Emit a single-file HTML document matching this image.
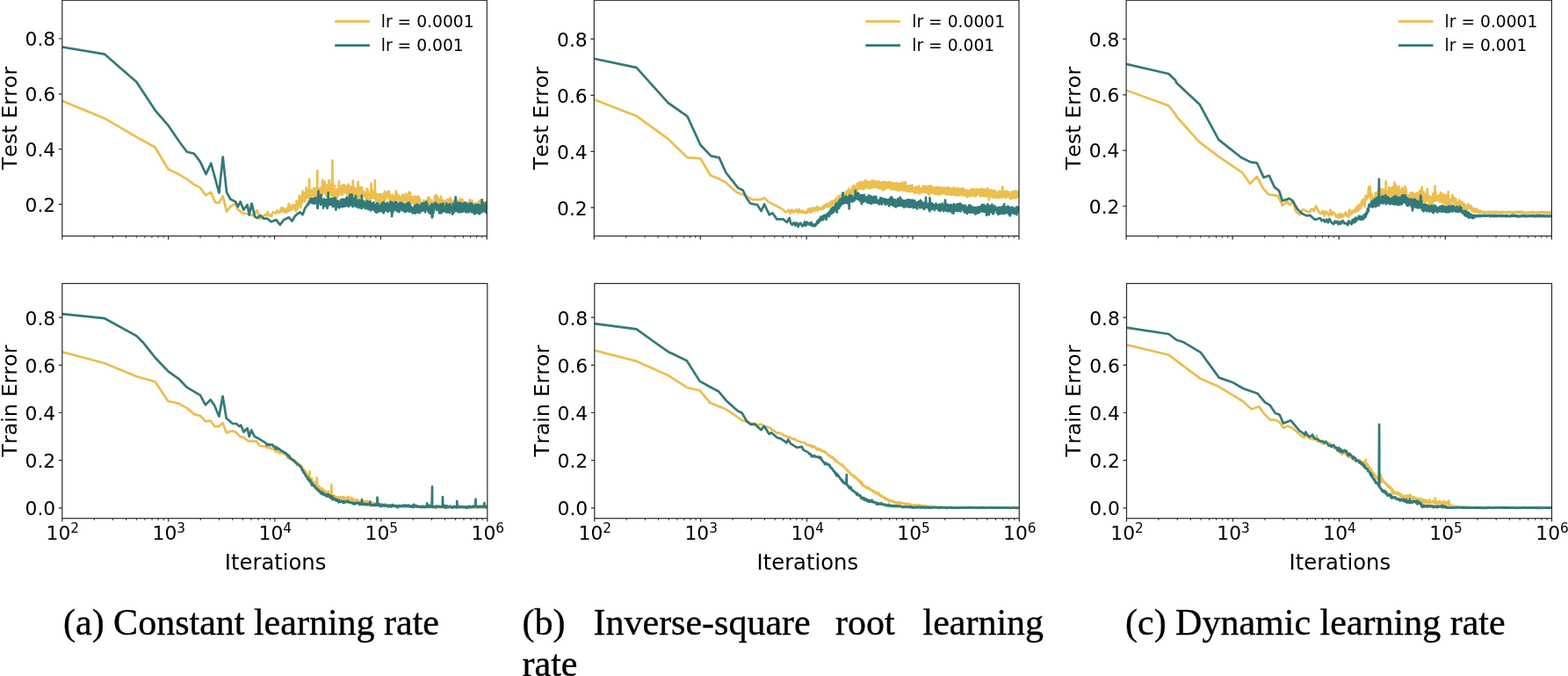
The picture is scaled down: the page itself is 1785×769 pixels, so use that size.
<!DOCTYPE html>
<html><head><meta charset="utf-8"><title>Learning rate figure</title>
<style>
html,body{margin:0;padding:0;background:#fff;width:1785px;height:769px;overflow:hidden}
svg{display:block}
text{font-kerning:none}
.tl{font-family:"DejaVu Sans",sans-serif;font-size:21.8px;fill:#000}
.sup{font-size:15.3px}
.al{font-family:"DejaVu Sans",sans-serif;font-size:24.25px;fill:#000}
.yl{font-family:"DejaVu Sans",sans-serif;font-size:23.8px;fill:#000}
.lg{font-family:"DejaVu Sans",sans-serif;font-size:18.7px;fill:#000}
.cap{font-family:"Liberation Serif","Times New Roman",serif;font-size:42px;fill:#000;stroke:#000;stroke-width:0.35px}
</style></head><body>
<svg width="1785" height="769" viewBox="0 0 1785 769">
<defs>
<clipPath id="c00"><rect x="70.8" y="0.3" width="483.5" height="268.2"/></clipPath>
<clipPath id="c10"><rect x="70.8" y="322.5" width="484.0" height="267.2"/></clipPath>
<clipPath id="c01"><rect x="676.3" y="0.3" width="483.7" height="268.2"/></clipPath>
<clipPath id="c11"><rect x="676.8" y="322.5" width="483.5" height="267.2"/></clipPath>
<clipPath id="c02"><rect x="1282.1" y="0.3" width="484.3" height="268.2"/></clipPath>
<clipPath id="c12"><rect x="1282.5" y="322.5" width="484.0" height="267.2"/></clipPath>
</defs>
<path clip-path="url(#c00)" d="M70.8,114.8 L119.2,134.7 154.5,155.3 176.5,167.5 191.5,192.5 202.9,197.9 212.8,203.8 220,209.4 227.9,213.6 234.3,222.2 240.1,218.7 245.1,230.1 249.4,230.8 253.7,222.9 258,240.8 262.2,235.1 268,231.5 270.1,237.3 275.8,242.3 280.1,243 287.3,245.1 292.3,239.4 295.9,248.7 301.6,244.4 303.2,245.2 304.7,241.1 306.2,245.7 307.7,244.1 309.1,245.9 310.5,241.6 311.9,241.2 313.2,242.2 314.4,242.7 315.7,239.3 316.9,241.2 318.1,241.9 319.3,238.9 320.4,236.3 321.5,240.9 322.6,236.6 323.7,241 324.8,238.4 325.8,242.1 326.8,236.5 327.8,240.2 328.8,231.8 329.7,239.6 330.7,234.2 331.6,238.6 332.5,237.8 333.4,233.3 334.2,237.3 335.1,233.5 336,237.9 336.8,240.2 337.6,228.7 338.4,237.9 339.2,234.9 340,233.8 340.8,222.7 341.5,223.7 342.3,236.2 343,226.8 343.8,231.2 344.5,217.5 345.2,228.4 345.9,220.1 346.6,219.4 347.3,229.5 347.9,221.7 348.6,213.5 349.3,218.9 349.9,225 350.5,222.2 351.2,222.7 351.8,221.6 352.1,203.8 352.4,226.7 353,218.1 353.6,224.8 354.2,217.9 354.8,216.5 355.4,221.4 356,216.8 356.5,223.3 357.1,214.2 357.7,227.8 358.2,223.4 358.8,224.5 359.3,219.3 359.9,213.7 360.4,214.9 361,220.1 361.2,194.1 361.5,222.2 362.1,215 362.6,225.3 363.2,219.5 363.7,220 364.3,214.3 364.8,223.6 365.4,213.5 365.9,223.7 366.5,213.4 367,221.9 367.1,204.5 367.6,213.9 368.1,219.5 368.7,215 369.2,219.1 369.8,206.6 370.3,220 370.9,212.3 371.4,223.4 372,222.7 372.5,214.8 373.1,210 373.6,220.3 374.2,211.9 374.7,205.1 375.3,220.3 375.8,212.4 376.4,219.6 376.9,210.3 377.5,223.1 378,214.4 378.4,182.4 378.6,219.4 379.1,212.3 379.7,221.8 380.2,225.6 380.8,211.2 381.3,216.9 381.9,227 382.4,217.8 383,222 383.5,225.3 384.1,215.1 384.6,222.5 385.2,222.5 385.7,217.4 385.9,206.4 386.3,219.5 386.8,214.2 387.4,217.5 387.9,212.9 388.5,221.5 389,211.3 389.6,221.7 390.1,214.6 390.7,217.8 391.2,210 391.8,219.2 392.3,212.1 392.9,219.3 393.4,211.1 394,215.4 394.5,219.5 395.1,213.6 395.6,219.8 396.2,224.8 396.7,209.6 397.3,217.4 397.8,211.9 398.4,222.1 398.9,212.7 399.5,219 400,223.1 400.6,217 401.1,225.1 401.7,205.5 402.2,224.9 402.8,219.7 403.3,226.1 403.9,213.9 404.4,220.5 405,221.8 405.5,215.9 406.1,224.4 406.6,214.5 407.2,231 407.7,206.8 408.3,225.5 408.8,224.3 409.4,224.1 409.9,213.3 410.5,220.9 411,213 411.6,224.5 412.1,213.3 412.7,220.6 413.2,219.2 413.8,221.6 414.3,218.1 414.9,223.3 415.4,221 416,224.6 416.5,220.6 417.1,231.9 417.6,214.7 418.2,225.2 418.7,216.3 419.3,232.1 419.8,224.3 420.4,224.9 420.9,223.4 421.5,220.1 422,226.3 422.6,208.9 423.1,225.6 423.7,216.8 424.2,225.5 424.8,221 425.3,224.2 425.9,221.2 426.4,225.6 426.9,205.1 427,224.2 427.5,219.4 428.1,229 428.6,221.4 429.2,229.5 429.7,221.5 430.3,228.4 430.8,221.1 431.4,229.2 431.9,221 432.5,229.5 433,231.3 433.6,220.7 434.1,229.3 434.7,222.8 435.2,228.4 435.8,223.9 436.3,228.4 436.9,220.3 437.4,228.4 438,217.9 438.5,227.6 439.1,221.2 439.6,225.4 440.2,220.2 440.7,223.9 441.3,217.8 441.8,220.3 442.4,224.6 442.9,217.7 443.5,227.5 444,221.5 444.6,224.5 445.1,229.4 445.7,223.2 446.2,231.1 446.8,221.9 447.3,233.8 447.9,224.7 448.4,232.8 449,223.5 449.5,230.7 450.1,223.3 450.6,217.7 451.2,227.3 451.7,220.3 452.3,224.5 452.8,227.4 453.4,224.7 453.9,226.6 454.5,222.7 455,229.2 455.6,226.4 456.1,230.7 456.7,224.7 457.2,227.5 457.8,222.5 458.3,232.7 458.9,221 459.4,229.6 460,225.2 460.5,228 461.1,223.9 461.6,228.1 462.2,220.6 462.7,230.3 463.3,222.1 463.8,232.1 464.4,227.4 464.9,231.3 465.5,218.7 466,229.8 466.6,233.9 467,219.4 467.1,224.4 467.7,230.2 468.2,231.2 468.8,224.2 469.3,228.5 469.9,224.1 470.4,225.3 471,231.4 471.5,223.5 472.1,231.8 472.6,223.6 473.2,230.6 473.7,227.8 474.3,231.4 474.8,224 475.4,226 475.9,231.9 476.5,223.6 477,227.3 477.6,226.9 478.1,226.6 478.7,234.5 479.2,230.5 479.8,231.4 480.3,236.4 480.9,233.1 481.4,237.4 482,238.5 482.5,227.9 483.1,234.1 483.6,229.3 484.2,229.6 484.7,234.6 485.3,230.4 485.8,228.6 486.4,233.1 486.9,225 487.5,228.5 488,234.1 488.6,224.7 489.1,234.4 489.7,229.6 490.2,234.9 490.8,230.4 491.3,227.5 491.9,234 492.4,229.8 493,233.1 493.5,230.6 494.1,229.7 494.6,231.2 495,223.3 495.2,225.2 495.7,228.1 496.3,232.8 496.8,221.8 497.4,230.6 497.9,223.6 498.5,231 499,226.9 499.6,232.7 500.1,227.4 500.7,230.9 501.2,230.6 501.8,232.9 501.8,223.3 502.3,227.8 502.9,234 503.4,227.7 504,233.5 504.5,228.1 505.1,236.3 505.6,237.1 506.2,234.4 506.7,232.2 507.3,228.8 507.8,232.2 508.4,234.1 508.9,227.1 509.5,234.4 510,229.3 510.6,231.8 511.1,226.8 511.7,233.9 512.2,227.4 512.8,225.3 513.3,234.8 513.9,234.5 514.4,228 515,233.7 515.5,231.1 516.1,234.6 516.6,228.8 517.2,235 517.7,227.6 518.3,228.2 518.8,235.1 519.4,228.2 519.9,227.7 520.5,235.4 521,228.3 521.6,233.3 522.1,228.5 522.7,234.7 523.2,230.2 523.8,234.1 524.3,226.4 524.9,237.2 525.4,230 526,231.2 526.5,227.2 527.1,233.7 527.6,230.3 528.2,231.5 528.7,232.5 529.3,230.5 529.8,232.2 530.4,237.3 530.9,233.7 531.5,230.5 532,235 532.6,236 533.1,231.7 533.7,234.3 534.2,229.1 534.8,227.2 535.3,232.7 535.9,229.3 536.4,233.8 537,228 537.5,228.9 538.1,235.7 538.6,232.5 539.2,236.1 539.7,231.6 540.3,235.2 540.8,235.5 541.4,231.1 541.9,237.3 542.5,232.6 543,235.2 543.6,231.2 544.1,235.9 544.7,229.6 545.2,233.7 545.8,228.2 546.3,234.1 546.9,228.7 547.4,233.5 548,228 548.5,237.3 549.1,230.1 549.6,236.5 550.2,233.2 550.7,236.2 551.3,230.9 551.8,236.2 552.4,230.4 552.9,236.6 553.5,230.6 554,235.4 554.3,233" fill="none" stroke="#ECBE4E" stroke-width="2.7" stroke-linejoin="round" stroke-linecap="butt"/>
<path clip-path="url(#c00)" d="M70.8,53.5 L119.2,61.7 155.4,93.3 176.5,125.3 191.7,142.9 204.2,161.2 212.8,172.7 221,174.7 228,184.1 234.5,198.1 240.2,185.7 249.4,219.4 253.7,178.6 258,218.7 262.2,226.5 268,229.4 270.8,235.1 273.7,229.4 277.3,238.7 281.6,233 283.7,244.4 286.6,231.5 290.1,246.6 293,248 296.6,245.1 300.2,248.7 304.4,248.7 308.7,252.3 314.5,250.1 318.8,255.8 323,250.1 328.8,247.3 332.6,251.5 335.9,245.8 339,243 341.6,241.5 344.5,244.4 346.9,237.6 350.5,232 351.1,232.7 351.8,229.1 352.4,230.8 353,230.4 353.6,226.3 354.2,229.1 354.8,226.1 355.4,231.1 355.9,226.1 356.5,228.8 357.1,231.4 357.6,226.1 358.2,231.7 358.7,225.1 359.3,229.9 359.8,230.1 360.4,225.2 360.9,226.6 361.5,237 362,226 362.5,217.5 362.6,229.9 363.1,225.6 363.7,229.4 364.2,226 364.8,233 365.3,221.6 365.9,231.8 366.4,228.5 367,232.1 367.5,227.9 368.1,236.6 368.6,226.3 369.2,234 369.7,227.1 370.3,232.9 370.8,228.4 371.4,234.5 371.9,227.1 372.5,236.9 373,234 373.6,226 373.6,219.4 374.1,233.4 374.7,229 375.2,231 375.8,232.8 376.3,226.3 376.9,231.2 377.4,226.5 378,233.4 378.5,226.2 379.1,235.2 379.6,225.7 380.2,233.6 380.7,229.8 381.3,234.5 381.8,225.4 382.4,238.7 382.9,229.2 383.5,234.5 384,235.1 384.6,228.3 385.1,235 385.7,230.2 386.2,236.4 386.8,231.2 387.3,235.4 387.9,227.6 388.4,234.2 389,227.1 389.5,235.1 390.1,226.6 390.6,235 391.2,235 391.7,227.4 392.3,234.5 392.8,226.8 393.4,234.4 393.9,225.5 394.5,233.8 395,224.7 395.6,229.9 396.1,225.8 396.7,234.8 397.2,226.6 397.8,233.6 398.3,221.6 398.9,227 399.4,227 400,233.1 400.5,221.1 401.1,228.1 401.6,235.2 402.2,225.8 402.7,234.1 403.3,226.5 403.8,231.7 404.4,226.1 404.9,222.9 405.5,235.2 406,231.2 406.6,234.8 407.1,228.4 407.7,235.6 408.2,236.4 408.8,227.4 409.3,228.8 409.9,234.3 410.4,228.7 411,236.6 411.5,229 411.9,222.7 412.1,236.8 412.6,229.4 413.2,234.8 413.7,228.9 414.3,229 414.8,235.6 415.4,231.8 415.9,237.4 416.5,233.3 417,236 417.6,228.6 418.1,237 418.7,231.4 419.2,238.1 419.8,229.6 420.3,232.2 420.9,236.7 421.4,229.1 422,239.3 422.5,231.1 423.1,231.7 423.6,231.7 424.2,238.2 424.7,238.1 425.3,230.3 425.8,238.8 426.4,234.7 426.9,240.2 427.5,240.5 428,232.6 428.6,241.9 429.1,231.4 429.7,238.6 430.2,231.3 430.8,240 431.3,240.6 431.9,234 432.4,237.9 433,235 433.5,239.8 434.1,232.8 434.6,231.6 435.2,231.9 435.7,241.3 436.3,230 436.8,242.2 437.4,230.6 437.9,239.9 438.5,235.4 439,232.3 439.6,238.8 440.1,231.7 440.7,240.1 441.2,230.5 441.8,240.8 442.3,232.7 442.9,236.8 443.4,232.3 444,238.8 444.5,229.6 445.1,240.5 445.6,230.1 446.2,246.1 446.7,238.8 447.3,231 447.8,240.6 448.4,234.2 448.9,237.8 449.5,230.3 450,237.8 450.6,229.9 451.1,239.2 451.7,230.6 452.2,240.2 452.8,233.9 453.3,239.2 453.9,232.2 454.4,241.1 455,230.9 455.5,237.9 456.1,230.8 456.6,238 457.2,231 457.7,239.3 458.3,233.4 458.8,236.7 459.4,232.2 459.9,236.1 460.5,240.8 461,233.6 461.6,240.9 462.1,232.4 462.7,240.5 463.2,231.7 463.8,238.7 464.3,233 464.9,239.5 465.4,230.7 466,240.9 466.5,232 467.1,238.4 467.6,234.6 468.2,236.5 468.7,240.8 469.3,237.6 469.8,242.5 470.4,241.7 470.9,235.7 471.5,241.4 472,234 472.6,242.7 473.1,233.6 473.7,233.8 474.2,241.5 474.8,232.7 475.3,232.9 475.9,233.1 476.4,242 477,234.1 477.5,241.8 478.1,241.9 478.6,234.3 479.2,236.1 479.7,232.4 480.3,231.4 480.8,239.8 481.4,232.2 481.9,238.8 482.5,230.9 483,238 483.6,232.7 484.1,241.3 484.7,236.7 485.2,229.5 485.8,237.5 486.3,231.9 486.9,238.8 487.4,236.4 488,241.5 488.5,241.2 489.1,234.8 489.6,242.9 490.2,235.1 490.7,242.8 491.3,232.3 491.8,247.5 492.4,246.6 492.9,236.2 493.5,241.7 494,231.9 494.6,236.2 495.1,235.5 495.7,231.5 496.2,230.7 496.8,238.8 497.3,232.1 497.9,233 498.4,234 499,238.8 499.5,234.5 500.1,242.3 500.6,232.9 501.2,237.5 501.7,232.6 502.3,242.4 502.8,233 503.4,232.3 503.9,240.6 504.5,231.6 505,240.5 505.6,236.3 506.1,238.4 506.7,237.7 507.2,234.9 507.8,241.4 508.3,231.6 508.9,241.4 509.4,233.1 510,240.3 510.5,240.4 511.1,233 511.6,242.2 512.2,231.9 512.7,233.1 513.3,239.5 513.8,238.9 514.4,236 514.9,243.7 515.5,242.1 516,231.5 516.6,241.6 517.1,232.6 517.7,239.2 518.2,231.1 518.7,224 518.8,239.9 519.3,239.3 519.9,234.7 520.4,231.2 521,240.7 521.5,238.1 522.1,230.8 522.6,241.5 523.2,230.7 523.7,240.7 524.3,232 524.8,241.1 525.4,231.7 525.9,239.3 526.5,232 527,240.6 527.6,232.5 528.1,236.8 528.7,230.8 529.2,232.1 529.8,240.6 530.3,230.8 530.9,241.4 531.4,232 532,239.5 532.5,234.6 533.1,241.3 533.6,241.4 534.2,231.9 534.7,239.7 535.3,232.2 535.8,236.6 536.4,231.1 536.9,241.3 537.5,240.4 538,232.8 538.6,240.2 539.1,241.9 539.7,234.1 540.2,243.4 540.8,241.7 541.3,233.3 541.9,241.5 542.4,242.4 543,233.1 543.5,242.2 544.1,233.2 544.6,238.3 545.2,233.2 545.7,243.3 546.3,235 546.8,239.8 547.4,241.9 547.9,233.7 548.5,241.1 548.6,227.2 549,231 549.6,230.2 550.1,240.4 550.7,234.1 551.2,240.2 551.8,234.8 552.3,240.2 552.9,230.9 553.4,241.8 554,235.6 554.3,236.5" fill="none" stroke="#327A79" stroke-width="2.7" stroke-linejoin="round" stroke-linecap="butt"/>
<path clip-path="url(#c01)" d="M676.4,113.2 L724.5,131.9 760.7,158.1 782.5,179.2 797.3,180.3 808.8,199.5 818.6,203.6 825.8,207.2 838.6,218.7 845.8,221.5 857.2,227.2 865.8,227.2 870.1,225.1 874.4,229.4 883,233.7 891.6,238.7 893.7,240.8 895.8,241.1 897.8,238.7 899.7,242.6 901.5,238.7 903.3,241.7 905,240 906.6,238.4 908.2,242 909.8,238.2 911.3,241.8 912.8,239.8 914.2,242 915.6,240.4 917,242.5 918.3,242.4 919.6,238.3 920.9,241.1 922.1,236.8 923.3,241.7 924.5,239.2 925.6,236.2 926.8,239.6 927.9,236.8 928.9,239.4 930,235.3 931,239.3 932.1,235.8 933,237.4 934,238 935,238.3 935.9,235.6 936.9,237.9 937.8,234 938.7,236.3 939.5,233 940.4,235.1 941.3,232.2 942.1,234.4 942.9,235.6 943.7,231.3 944.5,234.8 945.3,230.1 946.1,233.2 946.9,228.9 947.6,232.5 948.4,229.4 949.1,228.4 949.8,231 950.5,231.6 951.2,226.7 951.9,230.6 952.6,225.9 953.3,229.1 954,225 954.6,223.8 955.3,228.8 955.9,222.7 956.6,228.4 957.2,224 957.8,228.1 958.4,221.2 959,226 959.6,221.5 960.2,225.6 960.8,222.8 961.4,226 962,219.6 962.5,224.1 963.1,218.7 963.6,223.9 964.2,217.7 964.7,222.5 965.3,216.9 965.8,221.3 966.4,214.8 966.9,217.4 967.5,219.8 968,217.2 968.6,219.6 969.1,216.1 969.7,219.9 970.2,213.4 970.8,218.9 971.3,211.4 971.9,211.4 972.4,220.2 973,213.8 973.5,217.5 974.1,212.5 974.6,216.4 975.2,217.2 975.7,209.1 976.3,209.2 976.8,215.4 977.4,214.4 977.9,208.2 978.5,212.1 979,207.2 979.6,214.6 980.1,208.6 980.7,214.3 981.2,207.5 981.8,214 982.3,207 982.9,215.5 983.4,208 984,214.7 984.5,206.1 985.1,210.4 985.6,205 986.2,211.8 986.7,206.6 987.3,213.9 987.8,207.3 988.4,212.3 988.9,207.1 989.5,214.1 990,207 990.6,214.1 991.1,207.2 991.7,213.6 992.2,213.5 992.8,205.3 993.3,212.9 993.9,213.1 994.4,206.1 995,210.3 995.5,207.4 996.1,212.6 996.6,206.1 997.2,213.2 997.7,209.6 998.3,212.8 998.8,208.1 999.4,213.3 999.9,206.3 1000.5,213.6 1001,207.2 1001.6,214.6 1002.1,207.6 1002.7,213.3 1003.2,208.1 1003.8,213.2 1004.3,207.4 1004.9,216.4 1005.4,207 1006,214.6 1006.5,207.2 1007.1,215.2 1007.6,207.1 1008.2,214.2 1008.7,210.2 1009.3,207.8 1009.8,213.4 1010.4,210.4 1010.9,213.9 1011.5,206.8 1012,213.6 1012.6,207.9 1013.1,212.3 1013.7,208.5 1014.2,215.3 1014.8,207.5 1015.3,211.9 1015.9,215.5 1016.4,210.5 1017,214.4 1017.5,208.2 1018.1,208.5 1018.6,215.6 1019.2,214.8 1019.7,208.5 1020.3,216.1 1020.8,208.3 1021.4,215.2 1021.9,209.1 1022.5,216.4 1023,209.6 1023.6,216.9 1024.1,209 1024.7,215.8 1025.2,208.9 1025.8,213.2 1026.3,208.6 1026.9,215.8 1027.4,207.8 1028,216.7 1028.5,208.1 1029.1,216.4 1029.6,208.9 1030.2,214.7 1030.7,207.2 1031.3,217.2 1031.8,211.6 1032.4,216.3 1032.9,216.1 1033.5,217.7 1034,211.3 1034.6,217.4 1035.1,211 1035.7,217.4 1036.2,211.7 1036.8,218.2 1037.3,213.6 1037.9,216 1038.4,210.7 1039,217.7 1039.5,217.8 1040.1,215 1040.6,218.6 1041.2,213.9 1041.7,219.6 1042.3,212.5 1042.8,216.8 1043.4,215.3 1043.9,218.9 1044.5,218 1045,212.8 1045.6,217.5 1046.1,211.5 1046.7,220.1 1047.2,213.5 1047.8,218.5 1048.3,218.3 1048.9,219.2 1049.4,214.8 1050,218.7 1050.5,211.8 1051.1,216 1051.6,212.4 1052.2,218.3 1052.7,212.1 1053.3,211.9 1053.8,218.4 1054.4,212.8 1054.9,219.3 1055.5,213.1 1056,218.6 1056.6,211.6 1057.1,220.7 1057.7,221.6 1058.2,215.9 1058.8,219.2 1059.3,211.3 1059.9,218.9 1060.4,215.2 1061,219.7 1061.5,212.6 1062.1,219.5 1062.6,213.5 1063.2,219 1063.7,213.9 1064.3,220.8 1064.8,213.5 1065.4,220.3 1065.9,220.6 1066.5,213.1 1067,220.5 1067.6,213.5 1068.1,221.2 1068.7,213.1 1069.2,221.4 1069.8,214.1 1070.3,219.7 1070.9,213.7 1071.4,220.4 1072,213.6 1072.5,214.6 1073.1,220 1073.6,213.9 1074.2,220 1074.7,213.6 1075.3,220.4 1075.8,220.6 1076.4,213.9 1076.9,219.4 1077.5,221.4 1078,215.4 1078.6,221.1 1079.1,213.1 1079.7,220.2 1080.2,213.7 1080.8,221.1 1081.3,217.3 1081.9,221 1082.4,214.8 1083,221.9 1083.5,215.2 1084.1,220.4 1084.6,214.3 1085.2,220.7 1085.7,213.7 1086.3,221.7 1086.8,214.4 1087.4,220.8 1087.9,221.7 1088.5,214.5 1089,222.3 1089.6,214.7 1090.1,219.1 1090.7,214.4 1091.2,221.5 1091.8,215.2 1092.3,215.1 1092.9,222.3 1093.4,217.1 1094,220.5 1094.5,214.5 1095.1,217.2 1095.6,215.6 1096.2,222.3 1096.7,214.4 1097.3,222.1 1097.8,216.7 1098.4,222.1 1098.9,216.3 1099.5,222.2 1100,216 1100.6,221.7 1101.1,224.1 1101.7,217.6 1102.2,222.8 1102.8,217.2 1103.3,223 1103.9,217.7 1104.4,221.4 1105,216.5 1105.5,223.1 1106.1,215 1106.6,222.6 1107.2,215.5 1107.7,221.5 1108.3,215.3 1108.8,222.5 1109.4,216.1 1109.9,223.4 1110.5,216.2 1111,219.9 1111.6,215.4 1112.1,222.4 1112.7,217 1113.2,220.4 1113.8,215.6 1114.3,220.7 1114.9,217.2 1115.4,215.9 1116,223.3 1116.5,216.5 1117.1,214.7 1117.6,222.4 1118.2,215.1 1118.7,222.9 1119.3,222.7 1119.8,216.6 1120.4,215.5 1120.9,222.9 1121.5,215.8 1122,216.8 1122.6,223.4 1123.1,216.8 1123.7,222.4 1124.2,214.2 1124.8,222.7 1125.3,216.2 1125.9,227.4 1126.4,217.2 1127,223.6 1127.5,216.8 1128.1,223.3 1128.6,216.2 1129.2,222.9 1129.7,217.8 1130.3,224.7 1130.8,217.1 1131.4,224.7 1131.9,218.8 1132.5,224.1 1133,217.1 1133.6,223.6 1134.1,224.8 1134.7,223.7 1135.2,224.5 1135.8,219.2 1136.3,224.1 1136.9,225.2 1137.4,217.7 1138,218 1138.5,224.4 1139.1,218.1 1139.6,224.6 1140.2,217.8 1140.7,223.7 1141.3,212.7 1141.8,224.4 1142.4,222.1 1142.9,217.6 1143.5,223.5 1144,218.7 1144.6,224.9 1145.1,225.1 1145.7,217.2 1146.2,224 1146.8,218.7 1147.3,219.6 1147.9,221.5 1148.4,218.3 1149,224.3 1149.5,221.3 1150.1,225.9 1150.6,220.9 1151.2,225.8 1151.7,218.6 1152.3,225.5 1152.8,218.2 1153.4,223.4 1153.9,219.6 1154.5,225.3 1155,218.7 1155.6,217.2 1156.1,225.3 1156.7,225 1157.2,217.6 1157.8,218.2 1158.3,224 1158.9,218.2 1159.4,218.8 1160,224.1 1160.1,222" fill="none" stroke="#ECBE4E" stroke-width="2.7" stroke-linejoin="round" stroke-linecap="butt"/>
<path clip-path="url(#c01)" d="M676.4,66.8 L724.5,76.9 760.7,117.1 782.5,132.4 797.3,164.7 809.3,177.4 818.7,179.4 826.5,196.5 840.1,213.6 845.8,216.5 850.1,225.8 854.4,231.5 862.2,233 866.5,240.1 870.1,232.2 875.8,244.4 879.4,242.3 884.4,249.4 891.6,249.4 895.9,253 898.7,248 900.1,253.7 901.9,255.8 903.7,253.2 905.4,256.6 907,253.4 908.6,258 910.2,254.2 911.7,253.9 913.1,257.2 914.6,256.7 916,252.4 917.3,256.9 918.6,252.6 919.9,255.2 921.2,253.7 922.4,256.2 923.6,253 924.8,256.8 925.9,257.1 927,255.1 928.1,257 929.2,255.5 930.2,251.9 931.3,253.8 932.3,249.5 933.3,251.8 934.3,246.6 935.2,250.1 936.2,246.3 937.1,250.1 938,245 938.9,244.7 939.8,246 940.6,249.8 941.5,243.6 942.3,245.3 943.1,242.1 943.9,246.2 944.7,240 945.5,243.6 946.3,237.5 947.1,242.7 947.8,235.9 948.5,241.7 949.3,235.8 950,240.2 950.7,233.5 951.4,239.1 952.1,231.4 952.8,241.7 953.5,231.7 954.1,237.5 954.8,229.3 955.4,236.6 956.1,227.4 956.7,234.1 957.3,226.4 958,226.9 958.6,232.2 959.2,225.6 959.5,219.4 959.8,231.6 960.4,224.1 960.9,230.4 961.5,230.6 962.1,230.6 962.7,223.2 963.2,230.6 963.8,224.6 964.3,231.1 964.9,230.3 965.4,224.9 966,223.9 966.5,229.5 966.7,237.5 967.1,222.9 967.6,221.9 968.2,228.2 968.7,224.6 969.3,228.9 969.8,222.5 970.4,229.5 970.9,224.9 971.5,227.2 972,224.6 972.6,228.4 973.1,222.4 973.7,220.3 973.8,216.8 974.2,224.9 974.8,220.5 975.3,226.2 975.9,220.2 976.4,226.7 977,219.5 977.5,226.6 978.1,227.1 978.6,221.8 979.2,228.6 979.7,222.3 980.3,222.6 980.8,231.9 981.4,222.1 981.9,229.4 982.5,222.4 983,229.7 983.6,221.5 984.1,228.4 984.7,224 985.2,228.4 985.8,224.1 986.3,227.8 986.9,230 987.4,224.3 988,224.4 988.5,230.9 989.1,222 989.6,227.1 990.2,230.4 990.7,225 991.3,231.7 991.8,223.3 992.4,231.5 992.9,224.5 993.5,230 994,230.1 994.6,223.9 995.1,230.7 995.7,223.9 996.2,224.3 996.8,230.2 997.3,223.7 997.9,230.6 998.4,227.4 999,230.6 999.5,230 1000.1,231.7 1000.6,232.1 1001.2,227.4 1001.7,231.9 1002.3,225.2 1002.8,231.3 1003.4,225.5 1003.9,232.5 1004.5,225.7 1005,229.6 1005.6,227 1006.1,230.5 1006.7,230.6 1007.2,226.3 1007.8,232.7 1008.3,226.9 1008.9,231.7 1009.4,227.4 1010,232.2 1010.5,227.6 1011.1,231 1011.6,227 1012.2,234.3 1012.7,233 1013.3,225.5 1013.8,225.5 1014.4,232.7 1014.9,224.2 1015.5,231.5 1016,226.1 1016.6,233.7 1017.1,227.7 1017.7,231.5 1018.2,227 1018.8,234.9 1019.3,227.5 1019.9,235.5 1020.4,228.9 1021,234.2 1021.5,233.8 1022.1,226 1022.6,226.9 1023.2,234.1 1023.7,226.3 1024.3,231.3 1024.8,224.6 1025.4,233.8 1025.9,226.8 1026.5,233.9 1027,227.7 1027.6,234.3 1028.1,228.4 1028.7,232.1 1029.2,235.8 1029.8,228.4 1030.3,234.5 1030.9,229.8 1031.4,229 1032,227.8 1032.5,235.3 1033.1,234.2 1033.6,227.3 1034.2,233.3 1034.7,227.3 1035.3,235.7 1035.8,234.8 1036.4,227.6 1036.9,235.3 1037.5,228 1038,233.7 1038.6,227.7 1039.1,234 1039.7,236.4 1040.2,228.4 1040.8,235.6 1041.3,228.3 1041.9,235.8 1042.4,231.8 1043,230.3 1043.5,235.1 1044.1,237.6 1044.6,231.5 1045.2,233.2 1045.7,229 1046.3,233.2 1046.8,229.3 1047.4,236.3 1047.9,227.8 1048.5,233.3 1049,234.3 1049.6,229.8 1050.1,236.2 1050.7,231.6 1051.2,237.2 1051.8,231.3 1052.3,238 1052.9,230.5 1053.4,236 1054,233.9 1054,224.5 1054.5,232.6 1055.1,235.8 1055.6,232.3 1056.2,235.7 1056.7,233.5 1057.3,238.2 1057.8,231 1058.4,240.3 1058.5,225 1058.9,233 1059.5,233.6 1060,238 1060.6,231.1 1061.1,238 1061.7,231.9 1062.2,235.2 1062.8,233.3 1063.3,233.8 1063.9,239.1 1064.4,233.1 1065,236.5 1065.5,231.7 1066.1,235.8 1066.6,237 1067.2,233.1 1067.7,233.3 1068.3,239.2 1068.8,234.5 1069.4,237.2 1069.9,232.3 1070.5,240.1 1071,233.6 1071.6,237.3 1072.1,238.3 1072.7,231.6 1073.2,237.1 1073.8,235.2 1074.3,240.2 1074.9,234 1075.4,239.1 1076,227.5 1076.5,235.3 1077.1,239.5 1077.6,237.8 1078.2,232.7 1078.7,232.9 1079.3,240.4 1079.8,233.2 1080.4,240.2 1080.9,234.9 1081.5,239.8 1082,233.9 1082.6,233 1083.1,233.3 1083.7,241.9 1084.2,235 1084.8,239.9 1085.3,242.8 1085.9,232.2 1086.4,236.5 1087,240.2 1087.5,233.7 1088.1,234.2 1088.6,237.1 1089.2,232.5 1089.7,240.2 1090.3,237.3 1090.8,232.2 1091.4,239.9 1091.9,233 1092.5,239.1 1093,231.7 1093.6,240.4 1094.1,232.5 1094.7,237 1095.2,233.7 1095.8,236.9 1096.3,236.5 1096.9,239.8 1097.4,233.9 1098,241.6 1098.5,238.6 1099.1,233.9 1099.6,237 1100.2,241.1 1100.7,243 1101.3,236.6 1101.8,239 1102.4,235.1 1102.9,241.3 1103.5,233.4 1104,241.7 1104.6,234 1105.1,241.7 1105.7,234.8 1106.2,240.8 1106.8,235.5 1107.3,241.6 1107.9,236.1 1108.4,241.8 1109,236.7 1109.5,242.4 1110.1,236.2 1110.6,243.7 1111.2,238.6 1111.7,242.3 1112.3,236.1 1112.8,242.4 1113.4,235.5 1113.9,238.8 1114.5,235.9 1115,241.9 1115.6,235.3 1116.1,235.2 1116.7,235.6 1117.2,239.7 1117.8,233.1 1118.3,240.6 1118.9,236 1119.4,236.8 1120,232.9 1120.5,240.6 1121.1,234 1121.6,240.9 1122.2,235 1122.7,241.6 1123.3,245 1123.8,235 1124.4,232.4 1124.9,242.8 1125.5,234.6 1126,244.1 1126.6,234.3 1127.1,240.7 1127.7,234.8 1128.2,234.8 1128.8,241.5 1129.3,232.6 1129.9,235.8 1130.4,243.5 1131,238.1 1131.5,242.1 1132.1,234.3 1132.6,235 1133.2,238.8 1133.7,236 1134.3,238.7 1134.8,240.5 1135.4,242.5 1135.9,236.4 1136.5,243.8 1137,236.7 1137.6,239.9 1138.1,235.9 1138.7,243.2 1139.2,242.3 1139.8,236.7 1140.3,239.6 1140.9,235 1141.4,242.8 1142,235.2 1142.5,243 1143.1,232.2 1143.6,242.8 1144.2,235.5 1144.7,238.9 1145.3,241.6 1145.8,241.8 1146.4,239 1146.9,234.9 1147.5,242.2 1148,234.9 1148.6,243.7 1149.1,236.1 1149.7,245.3 1150.2,237.9 1150.8,243.2 1151.3,236.8 1151.9,235.6 1152.4,241.6 1153,236.3 1153.5,242.3 1154.1,237.1 1154.6,243 1155.2,238.5 1155.7,243.1 1156.3,243.3 1156.8,235.9 1157.4,244.1 1157.9,236.5 1158.5,235.4 1159,239.2 1159.6,240.9 1160.1,239.6" fill="none" stroke="#327A79" stroke-width="2.7" stroke-linejoin="round" stroke-linecap="butt"/>
<path clip-path="url(#c02)" d="M1282.1,102.7 L1330.5,120.3 1338.2,130.1 1339.3,132.5 1365.1,161.3 1387.3,178.1 1414.3,196.4 1423.1,209 1430.9,201 1437.8,214.2 1444.3,221.4 1454.7,222.7 1459.9,233.7 1465.1,229.2 1468.4,233.1 1471.6,227.9 1474.9,240.2 1479.4,244.1 1483.3,238.3 1488.5,240.9 1491,241 1493.4,237.6 1495.7,240 1498,234.7 1498.3,234.4 1500.1,238.4 1502.1,242.3 1504.1,243.1 1506,240 1507.8,245.9 1509.6,240.3 1511.3,242.9 1512.9,245.4 1514.5,238.7 1516.1,244.7 1517.6,241.4 1519.1,242.3 1520.5,245.6 1521.9,247 1523.2,244.1 1524.6,248.2 1525.9,243.1 1527.1,247.4 1528.3,244.4 1529.5,246.2 1530.7,243.5 1531.9,241.6 1533,245.5 1534.1,243.5 1535.2,246.7 1536.2,238.6 1537.3,244.3 1538.3,240.7 1539.3,242.5 1540.2,239.7 1541.2,240.7 1542.1,238.8 1543.1,241.3 1544,235.4 1544.9,237.3 1545.8,240.2 1546.6,233.3 1547.5,238.1 1548.3,233 1549.1,236.8 1549.9,229.4 1550.7,233.2 1551.5,226.7 1552.3,231.6 1553.1,227.6 1553.8,234.9 1554.6,222.5 1555.3,227 1556,224 1556.7,225 1557.4,223.9 1558.1,212.9 1558.8,219.9 1559.5,212 1560.2,224.7 1560.8,227.3 1561.5,220.5 1562.1,227.3 1562.7,225.9 1563.4,227.8 1564,225.7 1564.6,234.2 1565.2,226.4 1565.8,219.5 1566.4,226.5 1567,219.9 1567.6,223.8 1568.1,218.7 1568.7,225.5 1569.3,224.9 1569.8,214.6 1570.4,219.8 1570.9,222.1 1571.5,216.8 1572,225.4 1572.6,214.9 1573.1,225 1573.7,215.4 1574.2,225.8 1574.8,216 1575.3,227.6 1575.9,216.8 1576.4,226.1 1577,218.6 1577.5,223.7 1577.7,206.4 1578.1,224.3 1578.6,218.1 1579.2,223.7 1579.7,221.9 1580.3,217.6 1580.8,220.3 1581.4,213 1581.9,224.1 1582.5,222.2 1583,216.1 1583.6,222.6 1584.1,214.1 1584.7,222.9 1585.2,222.2 1585.8,212.6 1586.3,222.6 1586.9,220.1 1587.4,227.8 1587.5,207.7 1588,218.5 1588.5,223.6 1589.1,210.8 1589.6,225.4 1590.2,214.4 1590.7,222.6 1591.3,219.3 1591.8,226.7 1592.4,211.8 1592.9,226.7 1593.5,217.2 1594,224.4 1594.6,216.3 1595.1,223.9 1595.7,226.7 1596.2,213.9 1596.8,221.1 1597.3,217.6 1597.9,222.1 1598.4,215.6 1599,218.8 1599.5,212.1 1600.1,226.2 1600.6,214.9 1601.2,226.4 1601.7,222.2 1602.3,228.6 1602.8,231 1603.4,222 1603.9,231.6 1604.5,225.8 1605,231.4 1605.6,219.6 1606.1,219.1 1606.7,227.4 1607.2,223.2 1607.8,225.4 1608.3,219.1 1608.9,230.9 1609.4,221.3 1610,228.1 1610.5,221.3 1611.1,231 1611.6,220.8 1612.2,231 1612.7,219.3 1613.3,228.9 1613.8,222 1614.4,229.7 1614.9,220.1 1615.5,224.7 1616,219.2 1616.6,216.9 1617.1,227.5 1617.7,220.6 1618.2,217.9 1618.7,212.9 1618.8,230 1619.3,223.8 1619.9,219.5 1620.4,228.7 1621,218.7 1621.5,225.8 1622.1,223.4 1622.6,232.9 1623.2,221.1 1623.7,223 1624.3,227.6 1624.8,214.9 1625.4,226.1 1625.9,227.1 1626.5,226.4 1627,232.8 1627.6,223 1628.1,233 1628.7,224.4 1629.2,230.2 1629.8,226.5 1630.3,237.9 1630.9,231.3 1631.4,220.2 1632,228.5 1632.5,221.7 1633.1,224.2 1633.6,211.6 1633.6,228.3 1634.2,218.1 1634.7,227.7 1635.3,227.6 1635.8,223.7 1636.4,227.7 1636.9,227 1637.5,221.9 1638,227 1638.6,225.7 1639.1,229.5 1639.7,226.6 1640.2,219.1 1640.8,229.5 1641.3,220.4 1641.9,230.5 1642.4,223.3 1643,228.3 1643.5,221.4 1644.1,223.6 1644.6,231.7 1645.2,225.4 1645.7,222.2 1646.3,228.3 1646.8,222.3 1647.4,235.2 1647.9,227.1 1648.5,227.5 1648.6,218.1 1649,237.7 1649.6,230.8 1650.1,229.8 1650.7,232.2 1651.2,226.9 1651.8,231.4 1652.3,226.1 1652.9,229.4 1653.4,221.9 1654,227.4 1654.5,229 1655.1,224.8 1655.6,235.1 1656.2,226.2 1656.7,234.3 1657.3,226.4 1657.8,236 1658.4,229.8 1658.9,232.6 1659.5,236.1 1660,230.3 1660.6,236.5 1661.1,227.3 1661.7,233.6 1662.2,229 1662.8,235.3 1663.3,232.4 1663.9,233.8 1664.4,229.7 1665,234.3 1665.5,231.2 1666.1,237.2 1666.6,240.5 1667.2,237.7 1667.7,232.3 1668.3,233.5 1668.8,238.5 1669.4,234.9 1669.9,238.4 1670.5,235.5 1671,237.4 1671.6,232 1672.1,236.5 1672.7,234 1673.2,237.3 1673.8,235 1674.3,237.8 1674.9,234.1 1675.4,240.1 1676,237.8 1676.5,240.5 1677.1,237.1 1677.6,238.2 1678.2,240.9 1678.7,237.8 1679.3,241.1 1679.8,238.7 1680.4,241 1680.9,237.5 1681.5,241.1 1682,239.7 1682.6,240.1 1683.1,241.9 1683.7,239.7 1684.2,241.9 1684.8,240.6 1685.3,241.3 1685.9,240 1686.4,241.6 1687,241.2 1687.5,241.4 1688.1,240.8 1688.6,241.5 1689.2,241.4 1689.7,241.6 1690.3,240.8 1690.8,242 1691.4,241.3 1691.9,241.7 1692.5,241.4 1693,241.5 1693.6,241 1694.1,242 1694.7,240.8 1695.2,241.8 1695.8,241.2 1696.3,241.9 1696.9,241 1697.4,241.5 1698,240.9 1698.5,241.9 1699.1,241.2 1699.6,241.3 1700.2,240.8 1700.7,241.8 1701.3,241.8 1701.8,241.4 1702.4,242.3 1702.9,240.7 1703.5,241.5 1704,240.7 1704.6,241.8 1705.1,241.5 1705.7,242.1 1706.2,242.2 1706.8,241 1707.3,242.2 1707.9,241.1 1708.4,242.1 1709,241.1 1709.5,242.3 1710.1,241.1 1710.6,242 1711.2,240.8 1711.7,242 1712.3,241.2 1712.8,241.5 1713.4,241.8 1713.9,241.3 1714.5,242.1 1715,241.3 1715.6,241.4 1716.1,241.9 1716.7,241 1717.2,241.8 1717.8,241.3 1718.3,240.9 1718.9,241.1 1719.4,242 1720,241.1 1720.5,242.2 1721.1,242.1 1721.6,241.9 1722.2,241.2 1722.7,242.8 1723.3,242.1 1723.8,241.1 1724.4,241.8 1724.9,241.4 1725.5,242.1 1726,241 1726.6,241.9 1727.1,241.4 1727.7,241.9 1728.2,240.8 1728.8,241.8 1729.3,241 1729.9,241.8 1730.4,241.9 1731,241.3 1731.5,241.9 1732.1,240.5 1732.6,241.8 1733.2,241.1 1733.7,242.3 1734.3,241.9 1734.8,241.4 1735.4,241.9 1735.9,241.4 1736.5,242.5 1737,241.6 1737.6,242.3 1738.1,241.8 1738.7,241.9 1739.2,242.6 1739.8,241.6 1740.3,241.4 1740.9,242.1 1741.4,241.8 1742,242.1 1742.5,241.6 1743.1,242 1743.6,241 1744.2,242 1744.7,240.9 1745.3,241.9 1745.8,241.4 1746.4,242.2 1746.9,241.4 1747.5,242.4 1748,241.8 1748.6,242.5 1749.1,241.6 1749.7,242.6 1750.2,241.8 1750.8,241.5 1751.3,242 1751.9,241.4 1752.4,242.5 1753,242.6 1753.5,241.9 1754.1,240.8 1754.6,242.2 1755.2,241.1 1755.7,242.2 1756.3,241.1 1756.8,242.3 1757.4,241.5 1757.9,242.3 1758.5,241.2 1759,242 1759.6,241.8 1760.1,242.2 1760.7,241.5 1761.2,242.4 1761.8,241.6 1762.3,242.1 1762.9,241.4 1763.4,242.3 1764,241.6 1764.5,242.5 1765.1,241.7 1765.6,242.4 1766.2,242.2 1766.3,241.9" fill="none" stroke="#ECBE4E" stroke-width="2.7" stroke-linejoin="round" stroke-linecap="butt"/>
<path clip-path="url(#c02)" d="M1282.1,72.8 L1330.5,84 1338.2,91.5 1339.3,94.3 1365.8,119.1 1387.3,158.9 1413.1,179.3 1423.6,184.4 1430.9,185.3 1438.5,201.9 1444.8,199.8 1450.8,212.9 1456,216.8 1459.9,228.5 1467.7,225.9 1471.6,228.5 1476.8,237.6 1482,242.8 1487.2,245.4 1491.1,244.8 1497,250 1502.8,248 1504.7,251.2 1506.6,249.8 1508.4,252.5 1510.2,249.5 1511.8,253.1 1513.5,249.1 1515.1,252.1 1516.6,254 1518.1,255 1519.6,251.6 1521,253.5 1522.4,251.8 1523.7,255.2 1525,252.4 1526.3,254.7 1527.5,251.8 1528.8,251.1 1529.9,254 1531.1,253.8 1532.2,254.7 1533.4,253.7 1534.5,256.1 1535.5,251.2 1536.6,253 1537.6,253.9 1538.6,255 1539.6,250.1 1540.6,253.4 1541.5,249.1 1542.5,252.7 1543.4,247.7 1544.3,251 1545.2,248.7 1546.1,249.1 1546.9,245.9 1547.8,249.3 1548.6,246 1549.4,249.8 1550.2,247.1 1551,249.5 1551.8,245.5 1552.6,248.8 1553.3,244.2 1554.1,244.1 1554.8,246.5 1555.5,241.6 1556.3,243.1 1557,237.1 1557.7,240.3 1558.4,232.8 1559,235 1559.7,232.3 1560.4,234.4 1561,229.6 1561.7,235.4 1562.3,229.4 1563,235.4 1563.6,227.9 1564.2,227.5 1564.8,233 1565.4,226.5 1566,235.1 1566.6,234.7 1567.2,225 1567.8,232.8 1568.3,224.5 1568.9,232.2 1569.5,233.9 1569.9,203.8 1570,229.1 1570.6,225.8 1571.1,231.4 1571.7,230.4 1572.2,224.6 1572.8,230.9 1573.3,224.1 1573.9,223.1 1574.4,231.4 1575,224.1 1575.5,229.8 1576.1,223.8 1576.6,229.4 1577.2,222 1577.7,232.2 1578.3,224.8 1578.8,230.7 1579.4,230.7 1579.9,224.2 1580.5,231.1 1581,228.7 1581.6,226.1 1582.1,225.9 1582.7,232.2 1583.2,225.9 1583.8,225.8 1584.3,229.8 1584.9,227.6 1585.4,231.9 1586,224.3 1586.5,228.3 1587.1,224.5 1587.6,232.6 1588.2,227.2 1588.7,222.9 1589.3,223.3 1589.8,232.3 1590.4,224.6 1590.9,230.6 1591.5,224.8 1592,233.2 1592.6,225.2 1593.1,229.4 1593.7,225.4 1594.2,232.4 1594.8,224.9 1595.3,223.9 1595.9,232.1 1596.4,222.3 1597,230.7 1597.5,222 1598.1,229.7 1598.6,226 1599.2,228.3 1599.7,222.3 1600.3,231.5 1600.8,227.2 1601.4,225 1601.9,234 1602.5,226.1 1603,234 1603.6,226.9 1604.1,228.9 1604.7,232.7 1605.2,226.8 1605.8,233 1606.3,226.7 1606.9,234.8 1607.4,227.5 1608,239.5 1608.5,227.2 1609.1,236.2 1609.6,229.1 1610.2,233.3 1610.7,226.9 1611.3,235 1611.8,228.7 1612.4,236.1 1612.9,228.7 1613.5,235.2 1614,229.3 1614.6,236.3 1615.1,229.5 1615.7,236.4 1616.2,232 1616.8,233.6 1617.3,222.6 1617.9,236.1 1618.4,228.9 1619,238.7 1619.5,234.8 1620.1,239.2 1620.6,240.3 1621.2,232.7 1621.7,238.9 1622.3,234.6 1622.8,238.7 1623.4,233.2 1623.9,240.1 1624.5,234.7 1625,238.2 1625.6,233.9 1626.1,234.3 1626.7,240.6 1627.2,238.5 1627.8,236 1628.3,238 1628.9,234.3 1629.4,240.5 1630,233.8 1630.5,240.2 1631.1,235 1631.6,242.1 1632.2,235.5 1632.7,241 1633.3,233.7 1633.8,239.9 1634.4,234.5 1634.9,239.9 1635.5,236 1636,241.3 1636.6,241.4 1637.1,237.6 1637.7,239 1638.2,235.6 1638.8,240.1 1639.3,235.6 1639.9,240.2 1640.4,234.5 1641,237.5 1641.5,240.9 1642.1,235.3 1642.6,234 1643.2,240.5 1643.7,235.5 1644.3,238.1 1644.8,235.4 1645.4,241 1645.9,235.2 1646.5,241.3 1647,237.3 1647.6,239.1 1648.1,236 1648.7,241.3 1649.2,234.9 1649.8,241.1 1650.3,234.6 1650.9,240.6 1651.4,240 1652,237.5 1652.5,237.8 1653.1,234.2 1653.6,240.6 1654.2,235 1654.7,234.9 1655.3,237.7 1655.8,237 1656.4,239.6 1656.9,240.5 1657.5,235.9 1658,239.9 1658.6,235 1659.1,240.9 1659.7,236.8 1660.2,241.1 1660.8,237.6 1661.3,240.4 1661.9,234.9 1662.4,240.6 1663,240.8 1663.5,236.7 1664.1,241.1 1664.6,242 1665.2,240.2 1665.7,243 1666.3,242.1 1666.8,240 1667.4,245 1667.9,240.3 1668.5,245.3 1669,240 1669.6,245.8 1670.1,242.2 1670.7,246.4 1671.2,246.8 1671.8,241.5 1672.3,247.8 1672.9,243.7 1673.4,245.8 1674,243.5 1674.5,247 1675.1,244.3 1675.6,247.8 1676.2,248.2 1676.7,247 1677.3,244.9 1677.8,247.8 1678.4,245.8 1678.9,246.5 1679.5,244.9 1680,246.3 1680.6,245.3 1681.1,246.3 1681.7,245.4 1682.2,246 1682.8,245.2 1683.3,245.9 1683.9,245.2 1684.4,246.1 1685,246.4 1685.5,245 1686.1,245.9 1686.6,245.8 1687.2,245.4 1687.7,245 1688.3,245.8 1688.8,244.8 1689.4,244.9 1689.9,245.7 1690.5,245.7 1691,244.9 1691.6,245.9 1692.1,245.8 1692.7,245.1 1693.2,245.7 1693.8,245 1694.3,245.4 1694.9,245.4 1695.4,245 1696,246 1696.5,245.2 1697.1,246 1697.6,245 1698.2,246 1698.7,245 1699.3,245.9 1699.8,245.4 1700.4,246 1700.9,245 1701.5,246 1702,245.2 1702.6,245.1 1703.1,246 1703.7,245.1 1704.2,246.1 1704.8,245.2 1705.3,245.6 1705.9,245.6 1706.4,245.7 1707,245.2 1707.5,246 1708.1,245.6 1708.6,245.2 1709.2,245.9 1709.7,245.3 1710.3,246 1710.8,245.5 1711.4,246 1711.9,245.3 1712.5,245.6 1713,245.3 1713.6,246.1 1714.1,245.3 1714.7,246.2 1715.2,245.2 1715.8,246.2 1716.3,245.2 1716.9,246.1 1717.4,245.7 1718,246.2 1718.5,246.3 1719.1,245.7 1719.6,246 1720.2,245.1 1720.7,245.8 1721.3,245 1721.8,244.8 1722.4,245.8 1722.9,245 1723.5,245.5 1724,245.6 1724.6,245.1 1725.1,246.1 1725.7,245.4 1726.2,245.3 1726.8,246.3 1727.3,245.5 1727.9,246.4 1728.4,245.6 1729,246.4 1729.5,245.7 1730.1,245.9 1730.6,246.3 1731.2,245.3 1731.7,246.2 1732.3,245.9 1732.8,245.2 1733.4,245.9 1733.9,245.2 1734.5,246 1735,245.2 1735.6,246 1736.1,245.7 1736.7,246.2 1737.2,245.4 1737.8,245.8 1738.3,246.2 1738.9,245.7 1739.4,246.2 1740,245.3 1740.5,245.6 1741.1,245.5 1741.6,245.9 1742.2,245.4 1742.7,246.1 1743.3,245.3 1743.8,245.9 1744.4,245.2 1744.9,246.1 1745.5,245.2 1746,245.8 1746.6,245.4 1747.1,246.4 1747.7,245.8 1748.2,246.3 1748.8,245.4 1749.3,246.1 1749.9,245.2 1750.4,245.9 1751,245.3 1751.5,246.1 1752.1,245.1 1752.6,246.3 1753.2,245.2 1753.7,245.6 1754.3,246 1754.8,245.5 1755.4,246.2 1755.9,245.4 1756.5,245.9 1757,245.3 1757.6,246 1758.1,245.5 1758.7,246.3 1759.2,245.8 1759.8,246.1 1760.3,245.3 1760.9,245.9 1761.4,245.4 1762,246.3 1762.5,245.6 1763.1,246.2 1763.6,245.7 1764.2,245.5 1764.7,245.7 1765.3,246.1 1765.8,245.5 1766.3,245.8" fill="none" stroke="#327A79" stroke-width="2.7" stroke-linejoin="round" stroke-linecap="butt"/>
<path clip-path="url(#c10)" d="M70.8,400.4 L119.2,413.3 155.4,428.2 176.5,434.1 191.3,456.3 203,458.9 212.8,464.1 221,471.1 228,473 233.9,479.3 239.7,478.6 244.2,485.1 249.4,485.1 253.5,481 257.7,492.4 263.9,490.3 268.1,491.4 273.3,496.6 277.5,497.6 282.7,501.8 292,501.8 295.1,507 302.4,508 304,509.2 305.5,509.3 307,509.2 308.4,510.2 309.8,510.4 311.2,511.4 312.5,510.7 313.8,513.9 315.1,512.7 316.3,514.1 317.5,514 318.7,515.8 319.9,514.6 321,515.2 322.1,515.6 323.2,515.4 324.2,516.9 325.3,516.2 326.3,518.2 327.3,520.3 328.3,518.5 329.2,521.5 330.2,520.7 331.1,522.6 332,521.9 332.9,522.8 333.8,522.8 334.7,524.2 335.5,523.5 336.4,526.5 337.2,525.9 338,528.7 338.8,527 339.6,527.7 340.4,528 341.2,529.2 341.9,528.9 342.7,531.2 343.4,530.3 344.1,533.9 344.8,533 345.5,535.4 346.2,534.3 346.9,536.4 347.6,535.7 348.3,538 348.9,538.4 349.6,541 350.2,543 350.9,540.6 351.5,540.9 352.1,544.8 352.4,536.1 352.7,541.9 353.3,547.6 353.9,545.2 354.5,546.5 355.1,544.1 355.7,548.6 356.3,547.3 356.8,549.1 357.4,548.5 357.9,549.4 358.5,548.6 359,550.2 359.6,552.4 360.1,551 360.7,553.9 360.7,543.4 361.2,552.6 361.8,555 362.3,554.7 362.9,556.5 363.4,553 364,557.7 364.5,557.7 365.1,556 365.6,558 366.2,555.2 366.7,559 367.3,557.2 367.8,556.8 368.4,559.6 368.9,557.6 369.5,559.5 370,558.4 370.6,561 371.1,559.5 371.7,560.7 372.2,559.9 372.8,563.4 373.3,560.7 373.9,559 374.4,560.9 375,562.7 375.5,562.6 376.1,563.6 376.6,562.4 377.2,566.5 377.3,551.7 377.7,563.8 378.3,563.1 378.8,565.3 379.4,564.4 379.9,563.4 380.5,564.9 381,563.9 381.6,565.3 382.1,565 382.7,566.4 383.2,565.5 383.8,567.5 384.3,565.7 384.9,565.4 385.4,567.5 386,566.1 386.5,567.9 387.1,565.3 387.6,567.1 388.2,565.8 388.7,567.9 389.3,567.2 389.8,565.7 390.4,567.4 390.9,565.1 391.5,567.9 392,567 392.6,567.6 393.1,566.1 393.7,567.6 394.2,567.3 394.8,567.9 395.3,566.7 395.9,569.3 396.4,565 397,570.4 397.5,567.1 398.1,568.2 398.6,567.2 399.2,571.1 399.7,570.1 400.3,565.8 400.8,572 401.4,568.7 401.9,571.7 402.5,567.8 403,571.1 403.6,569.5 404.1,569.8 404.7,569.6 405.2,570.3 405.8,568.3 406.3,570.2 406.9,568.7 407.4,570.1 408,569.8 408.5,570.5 409.1,570.8 409.6,570.4 410.2,573 410.7,570.5 411.3,569.5 411.8,571.9 412.4,569.5 412.9,570.7 413.5,570.8 414,571.9 414.6,571.2 415.1,572.2 415.7,570.4 416.2,571.7 416.8,570 417.3,571.4 417.9,570.1 418.4,572.2 419,571.1 419.5,571.9 420.1,571.3 420.6,572.2 421.2,571.1 421.7,572.8 422.3,572 422.8,572.6 423.4,572.3 423.9,572.8 424.5,571.8 425,572.8 425.6,572.4 426.1,572.6 426.7,573.2 427.2,572.7 427.8,573.4 428.3,572.9 428.9,572.8 429.4,574.6 430,573.5 430.5,573.9 431.1,572.9 431.6,574.4 432.2,573.5 432.7,574 433.3,573.9 433.8,574.2 434.4,573.2 434.9,574.4 435.5,573.8 436,574.1 436.6,574.3 437.1,573.8 437.7,574.3 438.2,574.8 438.8,573.5 439.3,574.3 439.9,574.8 440.4,574.5 441,575 441.5,574.9 442.1,575.2 442.6,574.7 443.2,575.7 443.7,575 444.3,575.3 444.8,575 445.4,575.3 445.9,575.1 446.5,575.6 447,574.9 447.6,575.7 448.1,575.2 448.7,575.8 449.2,575.4 449.8,575.7 450.3,575.6 450.9,575.8 451.4,575.7 452,575.9 452.5,575.7 453.1,575.9 453.6,575.6 454.2,575.9 454.7,575.9 455.3,576.4 455.8,575.8 456.4,576.1 456.9,575.9 457.5,576 458,575.8 458.6,576 459.1,575.8 459.7,576 460.2,575.8 460.8,576.3 461.3,575.3 461.9,576 462.4,575.6 463,576.1 463.5,575.8 464.1,576.1 464.6,575.9 465.2,575.9 465.7,575.9 466.3,576 466.8,575.8 467.4,576 467.9,575.7 468.5,576.1 469,576 469.6,576.4 470.1,575.8 470.7,576.5 471.2,576.7 471.8,576.5 472.3,576.2 472.9,576.5 473.4,576.3 474,576.6 474.5,576.3 475.1,576.6 475.6,576.4 476.2,576.6 476.7,576.4 477.3,576.7 477.8,576.9 478.4,576.3 478.9,576.8 479.5,576.5 480,576 480.6,576.6 481.1,576.4 481.7,576.3 482.2,576.6 482.8,576.4 483.3,576.9 483.9,576.5 484.4,576.5 485,576.5 485.5,576.6 486.1,576.5 486.6,577.2 487.2,576.5 487.7,576.7 488.3,576.3 488.8,576.7 489.4,576.8 489.9,576.7 490.5,576.8 491,576.5 491.6,576.7 492.1,576.8 492.7,577.1 493.2,576.7 493.8,576.9 494.3,576.7 494.9,577.1 495.4,576.8 496,577.1 496.5,576.7 497.1,576.8 497.6,577 498.2,576.9 498.7,577.2 499.3,576.8 499.8,576.9 500.4,576.6 500.9,576.8 501.5,577.3 502,576.6 502.6,576.4 503.1,576.9 503.7,576.6 504.2,576.8 504.8,576.7 505.3,576.9 505.9,576.6 506.4,576.8 507,576.7 507.5,576.9 508.1,576.5 508.6,577 509.2,576.7 509.7,577.1 510.3,576.5 510.8,577 511.4,576.7 511.9,576.9 512.5,577 513,576.9 513.6,576.7 514.1,577 514.7,576.8 515.2,577 515.8,576.4 516.3,576.8 516.9,577 517.4,576.7 518,577 518.5,576.6 519.1,577 519.6,576.7 520.2,577 520.7,576.7 521.3,576.9 521.8,576.3 522.4,576.7 522.9,576.6 523.5,576.6 524,576.6 524.6,577 525.1,576.6 525.7,576.9 526.2,576.8 526.8,577.1 527.3,576.5 527.9,577 528.4,576.7 529,577 529.5,576.7 530.1,576.9 530.6,576.4 531.2,576.7 531.7,576.8 532.3,577 532.8,576.7 533.4,576.9 533.9,576.7 534.5,576.8 535,576.5 535.6,576.6 536.1,577 536.7,576.8 537.2,577 537.8,576.6 538.3,576.9 538.9,576.6 539.4,577.2 540,576.6 540.5,576.9 541.1,576.7 541.6,577.2 542.2,577.4 542.7,576.9 543.3,577.1 543.8,576.6 544.4,576.3 544.9,577 545.5,576.8 546,577 546.6,576.8 547.1,576.7 547.7,577 548.2,576.7 548.8,576.9 549.3,576.6 549.9,577 550.4,576.7 551,576.9 551.5,576.8 552.1,576.7 552.6,577.2 553.2,576.3 553.7,576.8 554.3,576.8 554.3,576.9" fill="none" stroke="#ECBE4E" stroke-width="2.7" stroke-linejoin="round" stroke-linecap="butt"/>
<path clip-path="url(#c10)" d="M70.8,357.1 L119.2,362.2 155.4,382.1 162.5,389.2 176.5,406.7 191.7,422.6 203.4,430.8 212.8,440.7 228,449.6 233.9,460.6 239.7,454.7 244.2,461.2 249.4,473.7 253.5,450.8 257.7,475.8 265,482 269.1,482 272.3,485.1 274.3,483.7 277.5,491.4 281.6,487.2 283.7,496.6 286.2,489.3 289.9,496.6 294.1,498.7 302.4,503.9 304,506.7 305.5,505.1 307,506.4 308.4,505.8 309.8,505.5 311.2,507.7 312.5,507.7 313.8,510.7 315.1,508.7 316.3,510.9 317.5,510.3 318.7,511.7 319.9,512.6 321,512.8 322.1,513.8 323.2,514.1 324.2,515.1 325.3,515.4 326.3,516.8 327.3,517.2 328.3,519.3 329.2,518.5 330.2,521.3 331.1,521.4 332,522.3 332.9,523.5 333.8,523.2 334.7,524.9 335.5,525.3 336.4,525.3 337.2,526.8 338,527.2 338.8,528.6 339.6,528.3 340.4,529.4 341.2,530 341.9,531.1 342.7,531.3 343.4,532.8 344.1,535.2 344.8,535 345.5,537.5 346.2,537.4 346.9,539.7 347.6,539.5 348.3,542 348.9,541.9 349.6,542.6 350.2,545.2 350.9,543.6 351.5,546.6 352.1,545.8 352.7,547.6 353.3,546 353.9,549.7 354.5,548.8 355.1,552.4 355.7,550 356.3,552.1 356.8,551.8 357.4,551.9 357.9,553.6 358.5,553 359,555.2 359.6,555 360.1,556 360.7,555.5 361.2,557.1 361.8,557.3 362.3,558.4 362.9,557.8 363.4,557.7 364,559.5 364.5,560.4 365.1,560.1 365.6,561.6 366.2,559.9 366.7,559.7 367.3,562.2 367.8,561.4 368.4,563 368.9,561.7 369.5,562.3 370,562.9 370.6,562.4 371.1,564.1 371.7,564.6 372.2,562.8 372.8,564.3 373.3,562.4 373.9,564.4 374.4,563.1 375,565.4 375.5,563.6 376.1,566.2 376.6,564.8 377.2,567 377.7,564.3 378.3,567.7 378.8,568.3 379.4,566.2 379.9,567 380.5,566.9 381,568.4 381.6,567.8 382.1,569 382.7,567.8 383.2,569.7 383.8,568.3 384.3,569.3 384.9,568.7 385.4,571.5 386,569 386.5,570.1 387.1,570.2 387.6,571.2 388.2,570.2 388.7,570.6 389.3,570.1 389.8,570.5 390.4,571.7 390.9,572 391.5,570.2 392,570.8 392.6,571.5 393.1,570.6 393.7,571.1 394.2,570.3 394.8,571.1 395.3,570.1 395.9,571.1 396.4,569.9 397,571.3 397.5,571.3 398.1,571.9 398.6,571.5 399.2,571.9 399.7,571.5 400.3,571.5 400.8,572.5 401.4,571.9 401.9,572.5 402.5,573.3 403,572.3 403.6,573.5 404.1,572.1 404.7,572.1 405.2,572.6 405.8,572.9 406.3,571.8 406.9,572.5 407.4,572.3 408,572.6 408.5,572 409.1,572.2 409.6,574.5 410.2,572.4 410.7,573.2 411.3,571.9 411.8,573.6 412,568.3 412.4,572.7 412.9,572.6 413.5,574 414,573 414.6,573.6 415.1,572.9 415.7,574.1 416.2,573.6 416.8,574 417.3,573.4 417.9,574.4 418.4,573.2 419,574.2 419.5,573.7 420.1,574.2 420.6,574.2 421.2,573.8 421.2,570.7 421.7,574.3 422.3,575 422.8,574.2 423.4,574.8 423.9,574.4 424.5,574.5 425,574.3 425.6,575.2 426.1,574.2 426.7,575.2 427.2,573.6 427.8,574.9 428.3,574.8 428.9,574.3 429.4,574.7 429.5,565.9 430,574.1 430.5,575 431.1,575 431.6,574.6 432.2,573.4 432.7,576 433.3,574.9 433.8,576.2 434.4,574.6 434.9,574.9 435.5,575.1 436,574.4 436.6,575.7 437.1,574.5 437.7,575.3 438.2,574.5 438.8,575.8 439.3,575.4 439.9,575 440.4,575.5 441,575 441.5,576.3 442.1,575 442.6,576.3 443.2,575.7 443.7,575.2 444.3,574.6 444.8,575.8 445.4,576.5 445.9,574.8 446.5,575.4 447,574.1 447.6,575.9 448.1,575.3 448.7,576 449.2,575.9 449.8,575.1 450.3,575.9 450.9,575.3 451.4,576.4 452,575.7 452.5,577.4 453.1,575.7 453.6,576.4 454.2,575.1 454.7,576.2 455.3,575.3 455.8,575.5 456.4,575.8 456.9,575.9 457.5,575.1 458,575.9 458.6,575.4 459.1,576.3 459.7,574.6 460.2,575.5 460.8,574.8 461.3,575.5 461.9,575.9 462.4,574.9 463,575.9 463.5,575.1 464.1,574.8 464.6,575.8 465.2,574.7 465.7,575.9 466.3,575.8 466.8,576.5 467.4,575.7 467.9,576.3 468.5,575.4 469,576.6 469.6,575.1 470.1,575.9 470.7,577 471.2,575 471.5,573.7 471.8,575.9 472.3,575.2 472.9,576.2 473.4,575.8 474,576.3 474.5,575.2 475.1,576.7 475.6,575.9 476.2,576.5 476.7,576.3 477.3,576.7 477.8,576.1 478.4,576.7 478.9,576.4 479.5,577.2 480,576.3 480.6,576.8 481.1,576 481.7,576.9 482.2,576 482.8,577.1 483.3,576.1 483.9,577 484.4,577.1 485,575.9 485.5,576.6 486.1,575.7 486.1,572.7 486.6,576.1 487.2,575.1 487.7,575.1 488.3,577 488.8,574.8 489.4,576.4 489.9,575.8 490.5,576.6 491,576.3 491.6,576.7 492,553.7 492.1,576.9 492.7,576.4 493.2,576.8 493.8,576.4 494.3,576.7 494.9,576.2 495.4,577.1 496,576.7 496.5,577.3 497.1,575.5 497.6,576.3 498.2,576 498.7,575.9 499.3,576.5 499.8,576.7 500.4,575.8 500.9,576.6 501.5,576.3 502,576.6 502.6,576.2 503.1,576.7 503.7,576.7 504,565.4 504.2,576.3 504.8,576 505.3,577.2 505.9,576.3 506.4,575.2 507,576.4 507.5,577.7 508.1,576 508.6,575.3 509.2,576.5 509.7,576.3 510.3,577.2 510.8,577.1 511.4,576.3 511.9,576.6 512.5,575.7 513,576 513.6,576.7 514.1,577.2 514.7,577.5 515.2,576.6 515.8,577.6 516.3,576.3 516.9,577 517.4,576 518,576.8 518.5,576.7 519.1,576.9 519.6,576.3 520.2,577.6 520.2,570 520.7,575.5 521.3,576.9 521.8,576.8 522.4,576.2 522.9,576.2 523.5,577.2 524,576.4 524.6,577 525.1,576.4 525.7,576.7 526.2,576.1 526.8,576.6 527.3,576.8 527.9,577.4 528.4,576.6 529,576.6 529.5,576.7 530.1,576.6 530.6,577.6 531.2,576.7 531.7,577.8 532.3,576.6 532.8,576.5 533.4,576.8 533.9,577.2 534.5,575.7 535,577.2 535.6,576.6 536.1,576.9 536.7,576.7 537.2,577.1 537.8,575.8 538.3,576.7 538.9,575.9 539.4,576.6 540,576 540.5,576.9 541.1,575.9 541.5,567.8 541.6,576.4 542.2,576.2 542.7,576.5 543.3,576.2 543.8,577 544.4,576.3 544.9,576.7 545.5,576.8 546,576 546.6,576.7 547.1,575.9 547.7,576.6 548.2,576 548.8,576.7 549.3,575.8 549.9,576.9 550.4,576.1 551,576.8 551.5,572.2 551.5,576.3 552.1,576.9 552.6,576.2 553.2,577.4 553.7,575.8 554.3,576.7 554.3,576.6" fill="none" stroke="#327A79" stroke-width="2.7" stroke-linejoin="round" stroke-linecap="butt"/>
<path clip-path="url(#c11)" d="M676.4,398.5 L724.5,410.9 743.9,419.6 760.7,427.1 781.8,440.7 796.6,444.2 808.3,458.2 825.8,465.2 839.9,474.6 845.4,478.6 850.4,479.1 855,481.8 859.2,481.8 863.1,483.4 866.7,482.5 870.1,486.1 873.3,485.5 876.3,486.5 879.1,489.2 881.8,490.3 884.3,492.8 886.8,492.3 889.1,493.4 891.3,494.4 893.5,495.8 895.5,496 897.5,497.9 899.4,497.3 901.3,498.8 903.1,499.7 904.8,499.3 906.4,501.2 908.1,501.6 909.6,502.2 911.2,502.5 912.6,503.2 914.1,503.3 915.5,503.9 916.8,504 918.2,505.9 919.5,506 920.7,506.9 922,506.2 923.2,507.1 924.3,509 925.5,507 926.6,508.8 927.7,508.2 928.8,509.8 929.9,511.4 930.9,510 931.9,511.9 932.9,510.8 933.9,511.5 934.9,512.2 935.8,513.4 936.8,513.1 937.7,513.4 938.6,514.5 939.4,513.8 940.3,515.2 941.2,515.6 942,517.2 942.8,517.1 943.7,518.6 944.5,518.1 945.2,519.3 946,519.6 946.8,520.8 947.5,520 948.3,520.4 949,522 949.7,522.4 950.5,524.2 951.2,523.6 951.9,523.2 952.5,525.3 953.2,525.3 953.9,526.2 954.6,526.2 955.2,527.1 955.8,527.4 956.5,528.2 957.1,528.1 957.7,529.1 958.3,527.9 959,529.7 959.6,529.6 960.1,530.9 960.7,531.3 961.3,531.5 961.9,532.8 962.5,532.9 963,533.7 963.6,534 964.1,535.2 964.7,535.1 965.2,535.4 965.8,536.9 966.3,536.4 966.9,537.4 967.4,537.4 968,539.4 968.5,538.6 969.1,540.2 969.6,539.7 970.2,540.4 970.7,540.3 971.3,542 971.8,541.5 972.4,542.9 972.9,541.3 973.5,542.8 974,542.8 974.6,544.4 975.1,543.4 975.7,545 976.2,545.1 976.8,546.2 977.3,545.9 977.9,547.4 978.4,546.7 979,547.1 979.5,549.2 980.1,548.5 980.6,550.8 981.2,548.2 981.7,550.8 982.3,552.5 982.8,551.2 983.4,553 983.9,552.6 984.5,553.6 985,553.5 985.6,554.5 986.1,554.1 986.7,554.1 987.2,555.5 987.8,555 988.3,555.2 988.9,555 989.4,556.2 990,556.3 990.5,555.9 991.1,557.5 991.6,557 992.2,557.5 992.7,557.7 993.3,558.6 993.8,558.1 994.4,559.9 994.9,558.5 995.5,559.9 996,559.8 996.6,561 997.1,559.7 997.7,560.7 998.2,560.6 998.8,560.6 999.3,562 999.9,562.8 1000.4,560.9 1001,563 1001.5,562.5 1002.1,564.3 1002.6,563.5 1003.2,564.5 1003.7,565.1 1004.3,564.3 1004.8,565.1 1005.4,565.9 1005.9,566.2 1006.5,565.6 1007,567.2 1007.6,566 1008.1,567.9 1008.7,566.9 1009.2,568 1009.8,567.5 1010.3,568.8 1010.9,568.5 1011.4,569.3 1012,568.6 1012.5,570.5 1013.1,568.9 1013.6,570.2 1014.2,570.1 1014.7,569.3 1015.3,570.9 1015.8,570.8 1016.4,570.2 1016.9,570.7 1017.5,571.3 1018,570.8 1018.6,571.6 1019.1,571.4 1019.7,572.1 1020.2,571.5 1020.8,572.3 1021.3,572.1 1021.9,572.4 1022.4,571.2 1023,572.7 1023.5,571.4 1024.1,572.5 1024.6,571.4 1025.2,572.6 1025.7,572.5 1026.3,572.1 1026.8,572.4 1027.4,572.4 1027.9,572.7 1028.5,573.1 1029,572.8 1029.6,573.2 1030.1,572.6 1030.7,573.6 1031.2,573.2 1031.8,573 1032.3,574.1 1032.9,573.3 1033.4,573.8 1034,573.5 1034.5,573.9 1035.1,573.1 1035.6,573.9 1036.2,574.6 1036.7,574.3 1037.3,574.2 1037.8,574.2 1038.4,574.7 1038.9,574.7 1039.5,575.6 1040,574.7 1040.6,574.6 1041.1,575 1041.7,575.9 1042.2,574.7 1042.8,574.5 1043.3,575 1043.9,575.4 1044.4,574.8 1045,575.1 1045.5,575.2 1046.1,574.2 1046.6,575.3 1047.2,575.1 1047.7,575.3 1048.3,575.1 1048.8,576 1049.4,575.9 1049.9,575.2 1050.5,575.6 1051,575.4 1051.6,575.8 1052.1,575.5 1052.7,575.6 1053.2,575.8 1053.8,575.4 1054.3,575.8 1054.9,575.7 1055.4,575.9 1056,575.9 1056.5,576.2 1057.1,576.1 1057.6,576 1058.2,575.8 1058.7,576.4 1059.3,576 1059.8,576.4 1060.4,575.6 1060.9,576.2 1061.5,576.5 1062,576.2 1062.6,576.3 1063.1,576.5 1063.7,576.4 1064.2,576.6 1064.8,576.3 1065.3,576.7 1065.9,576.4 1066.4,577 1067,576.7 1067.5,576.9 1068.1,576.7 1068.6,576.9 1069.2,577 1069.7,576.8 1070.3,576.9 1070.8,576.8 1071.4,576.9 1071.9,576.9 1072.5,577.2 1073,576.9 1073.6,577.1 1074.1,576.9 1074.7,576.9 1075.2,577.1 1075.8,576.9 1076.3,577.2 1076.9,577 1077.4,577.3 1078,577.3 1078.5,577.2 1079.1,577.3 1079.6,577.3 1080.2,577.1 1080.7,577.3 1081.3,577.3 1081.8,577.3 1082.4,577.3 1082.9,577.4 1083.5,577.3 1084,577.4 1084.6,577.4 1085.1,577.3 1085.7,577.5 1086.2,577.4 1086.8,577.5 1087.3,577.5 1087.9,577.6 1088.4,577.6 1089,577.5 1089.5,577.6 1090.1,577.6 1090.6,577.6 1091.2,577.5 1091.7,577.7 1092.3,577.7 1092.8,577.6 1093.4,577.7 1093.9,577.7 1094.5,577.6 1095,577.7 1095.6,577.6 1096.1,577.7 1096.7,577.7 1097.2,577.6 1097.8,577.6 1098.3,577.5 1098.9,577.7 1099.4,577.5 1100,577.5 1100.5,577.6 1101.1,577.6 1101.6,577.5 1102.2,577.6 1102.7,577.6 1103.3,577.6 1103.8,577.6 1104.4,577.7 1104.9,577.6 1105.5,577.7 1106,577.6 1106.6,577.7 1107.1,577.5 1107.7,577.6 1108.2,577.6 1108.8,577.6 1109.3,577.6 1109.9,577.7 1110.4,577.6 1111,577.6 1111.5,577.7 1112.1,577.6 1112.6,577.6 1113.2,577.6 1113.7,577.7 1114.3,577.6 1114.8,577.5 1115.4,577.7 1115.9,577.5 1116.5,577.6 1117,577.6 1117.6,577.6 1118.1,577.7 1118.7,577.6 1119.2,577.7 1119.8,577.7 1120.3,577.7 1120.9,577.6 1121.4,577.7 1122,577.7 1122.5,577.7 1123.1,577.7 1123.6,577.6 1124.2,577.7 1124.7,577.6 1125.3,577.7 1125.8,577.6 1126.4,577.7 1126.9,577.6 1127.5,577.7 1128,577.7 1128.6,577.7 1129.1,577.7 1129.7,577.7 1130.2,577.7 1130.8,577.6 1131.3,577.7 1131.9,577.7 1132.4,577.7 1133,577.6 1133.5,577.6 1134.1,577.6 1134.6,577.6 1135.2,577.6 1135.7,577.6 1136.3,577.7 1136.8,577.6 1137.4,577.7 1137.9,577.7 1138.5,577.7 1139,577.7 1139.6,577.7 1140.1,577.7 1140.7,577.7 1141.2,577.7 1141.8,577.7 1142.3,577.7 1142.9,577.7 1143.4,577.7 1144,577.7 1144.5,577.7 1145.1,577.7 1145.6,577.6 1146.2,577.7 1146.7,577.7 1147.3,577.7 1147.8,577.7 1148.4,577.7 1148.9,577.7 1149.5,577.7 1150,577.7 1150.6,577.7 1151.1,577.7 1151.7,577.7 1152.2,577.7 1152.8,577.7 1153.3,577.7 1153.9,577.7 1154.4,577.7 1155,577.7 1155.5,577.7 1156.1,577.7 1156.6,577.7 1157.2,577.7 1157.7,577.7 1158.3,577.7 1158.8,577.7 1159.4,577.7 1159.9,577.7 1160.1,577.7" fill="none" stroke="#ECBE4E" stroke-width="2.7" stroke-linejoin="round" stroke-linecap="butt"/>
<path clip-path="url(#c11)" d="M676.4,368.1 L724.5,374.4 742.7,387.5 760.7,400.2 781.8,410.2 796.6,433.6 809.4,440.7 818.1,445.3 827,455.9 839.9,467.6 844.5,469.5 850,479.1 854.6,482.8 859.1,482.4 866.4,489.1 870,484.6 875.5,493.7 878.2,492.2 884.6,497.7 889.1,499.1 895.5,503.7 897.3,500.1 900.1,504.6 907.3,509.2 912.8,508.2 914.6,511.9 920.1,514.6 921.3,516.5 922.6,516.4 923.8,519.3 924.9,518.3 926.1,519.4 927.2,518.2 928.3,519.8 929.4,519.5 930.4,519.8 931.4,520.3 932.4,519.4 933.4,521.4 934.4,520.5 935.4,523.3 936.3,523.9 937.2,525.5 938.1,525.7 939,528.2 939.9,526.7 940.7,527.2 941.6,528.3 942.4,527.9 943.2,529.3 944.1,528.6 944.9,530.5 945.6,532.4 946.4,531.9 947.2,533.1 947.9,533.9 948.7,535.5 949.4,536.3 950.1,536.1 950.8,538.7 951.5,537.9 952.2,541.2 952.9,540.1 953.6,539.7 954.2,541.9 954.9,541.7 955.5,543 956.2,543.6 956.8,544.9 957.4,544.8 958,546.8 958.7,547.5 959.3,546.6 959.9,549.1 960.4,548.6 961,549.5 961.6,549 962.2,550.2 962.7,549.2 963.3,551.1 963.8,540.1 963.9,550.5 964.4,552 965,552.2 965.5,552.3 966.1,554.6 966.6,554 967.2,554.4 967.7,555.9 968.3,553.8 968.8,555.1 969.4,556.4 969.9,557.7 970.5,557.5 971,558.3 971.6,558.4 972.1,559.1 972.7,559.3 973.2,560 973.8,560.5 974.3,560.9 974.9,560.8 975.4,562.9 976,561 976.5,562.8 977.1,562.9 977.6,563.1 978.2,564 978.7,563.4 979.3,564.5 979.8,564.2 980.4,567.1 980.9,565.7 981.5,566.2 982,566.1 982.6,567.9 983.1,566.9 983.7,566.4 984.2,568.9 984.8,567.4 985.3,568.8 985.9,567.7 986.4,568.7 987,569.9 987.5,568.7 988.1,569.4 988.6,570.6 989.2,569.1 989.7,570.9 990.3,569.7 990.8,570.5 991.4,570.3 991.9,570.7 992.5,568.9 993,571.2 993.6,570.3 994.1,571.3 994.7,570.8 995.2,571.2 995.8,571.8 996.3,571.8 996.9,571.4 997.4,571.9 998,573.7 998.5,572.3 999.1,572.4 999.6,573.7 1000.2,572.7 1000.7,573.4 1001.3,572.8 1001.8,573.3 1002.4,573.2 1002.9,573.5 1003.5,572.2 1004,573.6 1004.6,573 1005.1,573.8 1005.7,573.8 1006.2,574 1006.8,574.7 1007.3,573.8 1007.9,574.4 1008.4,574.3 1009,574.4 1009.5,575.4 1010.1,575.4 1010.6,574.6 1011.2,575.1 1011.7,574 1012.3,575.7 1012.8,575 1013.4,575.8 1013.9,575.1 1014.5,575.3 1015,575 1015.6,575.1 1016.1,576.1 1016.7,575.4 1017.2,575.7 1017.8,575.2 1018.3,575.8 1018.9,575.4 1019.4,576.1 1020,575.3 1020.5,575.9 1021.1,575.4 1021.6,576.3 1022.2,575.7 1022.7,576 1023.3,575.6 1023.8,576.1 1024.4,575.6 1024.9,576 1025.5,575.8 1026,576.4 1026.6,576.1 1027.1,576.5 1027.7,576.4 1028.2,577.1 1028.8,576.6 1029.3,576.7 1029.9,576.3 1030.4,576.9 1031,576.5 1031.5,576.9 1032.1,576.6 1032.6,576.7 1033.2,576.5 1033.7,576.8 1034.3,577.3 1034.8,576.8 1035.4,576.2 1035.9,576.9 1036.5,576.4 1037,577.1 1037.6,576.7 1038.1,577.4 1038.7,577.1 1039.2,577.3 1039.8,577.3 1040.3,577.1 1040.9,577.5 1041.4,577.6 1042,576.9 1042.5,577.2 1043.1,577 1043.6,577.1 1044.2,576.9 1044.7,577.4 1045.3,576.5 1045.8,577.1 1046.4,576.9 1046.9,577.1 1047.5,576.9 1048,577.6 1048.6,577 1049.1,577.3 1049.7,576.8 1050.2,576.9 1050.8,577.4 1051.3,577.1 1051.9,577.3 1052.4,577 1053,577.7 1053.5,577.1 1054.1,577.3 1054.6,577.3 1055.2,576.9 1055.7,577.3 1056.3,577.3 1056.8,577.7 1057.4,577.2 1057.9,577.7 1058.5,577.2 1059,577.4 1059.6,577.5 1060.1,577.8 1060.7,577.4 1061.2,577.5 1061.8,577.3 1062.3,577.4 1062.9,576.9 1063.4,577.3 1064,577.4 1064.5,577.3 1065.1,577.4 1065.6,577.4 1066.2,577.3 1066.7,577.5 1067.3,577.7 1067.8,577.5 1068.4,577.5 1068.9,577.7 1069.5,577.9 1070,577.1 1070.6,577.6 1071.1,577.4 1071.7,577.5 1072.2,577.4 1072.8,577.5 1073.3,577.7 1073.9,577.4 1074.4,577.4 1075,577.5 1075.5,577.6 1076.1,577.4 1076.6,577.7 1077.2,577.5 1077.7,577.8 1078.3,577.4 1078.8,577.9 1079.4,577.4 1079.9,577.5 1080.5,577.5 1081,577.3 1081.6,577.5 1082.1,577.4 1082.7,577.7 1083.2,577.2 1083.8,577.6 1084.3,577.7 1084.9,577.9 1085.4,577.6 1086,577.6 1086.5,577.3 1087.1,577.8 1087.6,577.8 1088.2,577.5 1088.7,577.8 1089.3,577.5 1089.8,577.6 1090.4,577.4 1090.9,577.8 1091.5,578 1092,577.5 1092.6,577.6 1093.1,577.5 1093.7,577.6 1094.2,577.4 1094.8,577.5 1095.3,577.7 1095.9,577.5 1096.4,577.6 1097,577.5 1097.5,577.6 1098.1,577.5 1098.6,577.6 1099.2,577.5 1099.7,577.6 1100.3,577.4 1100.8,577.4 1101.4,577.7 1101.9,577.5 1102.5,577.5 1103,577.3 1103.6,577.4 1104.1,577.6 1104.7,577.4 1105.2,577.5 1105.8,577.3 1106.3,577.5 1106.9,577.4 1107.4,577.5 1108,577.5 1108.5,577.4 1109.1,577.6 1109.6,577.5 1110.2,577.9 1110.7,577.4 1111.3,577.4 1111.8,577.6 1112.4,577.5 1112.9,577.8 1113.5,577.5 1114,577.6 1114.6,577.5 1115.1,577.4 1115.7,577.7 1116.2,577.5 1116.8,577.6 1117.3,577.4 1117.9,577.6 1118.4,577.3 1119,577.7 1119.5,577.4 1120.1,577.7 1120.6,577.5 1121.2,577.8 1121.7,577.5 1122.3,577.7 1122.8,577.4 1123.4,577.7 1123.9,577.5 1124.5,577.6 1125,577.6 1125.6,577.6 1126.1,577.6 1126.7,577.6 1127.2,577.6 1127.8,577.5 1128.3,577.4 1128.9,577.6 1129.4,577.6 1130,577.7 1130.5,577.4 1131.1,577.6 1131.6,577.6 1132.2,577.5 1132.7,577.5 1133.3,577.7 1133.8,577.6 1134.4,577.6 1134.9,577.7 1135.5,577.6 1136,577.6 1136.6,577.5 1137.1,577.6 1137.7,577.6 1138.2,577.7 1138.8,577.5 1139.3,577.6 1139.9,577.5 1140.4,577.8 1141,577.6 1141.5,577.7 1142.1,577.7 1142.6,577.5 1143.2,577.7 1143.7,577.4 1144.3,577.8 1144.8,577.6 1145.4,577.8 1145.9,577.5 1146.5,577.7 1147,577.6 1147.6,577.8 1148.1,577.7 1148.7,577.7 1149.2,577.9 1149.8,577.7 1150.3,577.8 1150.9,577.7 1151.4,577.8 1152,577.7 1152.5,577.7 1153.1,577.7 1153.6,577.7 1154.2,577.7 1154.7,577.6 1155.3,577.6 1155.8,577.8 1156.4,577.7 1156.9,578 1157.5,577.7 1158,577.8 1158.6,577.7 1159.1,577.8 1159.7,577.6 1160.1,577.7" fill="none" stroke="#327A79" stroke-width="2.7" stroke-linejoin="round" stroke-linecap="butt"/>
<path clip-path="url(#c12)" d="M1282.1,392.1 L1330.5,403.8 1366.7,430.8 1387.8,440.1 1415,456.5 1424.8,465.4 1433,462.4 1440,471.7 1445.9,477.6 1451.7,477.6 1456.4,479.9 1461,486.7 1466.1,484.5 1472,487.4 1477.1,492.1 1482.1,496.4 1484.9,497.7 1487.6,494.7 1490.2,498.9 1492.7,498.7 1495,500.2 1497.2,499.2 1499,495.5 1499.4,502.1 1501.5,502.5 1503.4,501.7 1505.4,504.9 1507.2,505.1 1509,503.4 1510.7,504.4 1512.4,504.2 1514,503.9 1515.6,507.9 1517.1,508.3 1518.6,509 1520,510.5 1521.4,510.4 1522.8,513 1524.1,512 1525.4,514.9 1526.7,513.3 1527.9,517 1529.1,513.3 1530.3,515.9 1531.5,516.1 1532.6,518.1 1533.7,517.4 1534.8,519.7 1535.9,518.8 1536.9,520.2 1537.9,519.3 1538.9,521.3 1539.9,520.6 1540.9,523.2 1541.8,521.7 1542.8,523.5 1543.7,522.9 1544.6,523.3 1545.5,524.5 1546.3,524.1 1547.2,526 1548,523 1548.9,526.5 1549.7,525.4 1550.5,528 1551.3,526.7 1552.1,525.7 1552.8,527.4 1553.6,525.1 1554.3,528.1 1554.9,522.5 1555.1,529.9 1555.8,528.6 1556.5,527.9 1557.2,528.8 1557.9,531.2 1558.6,531 1559.3,532.9 1559.9,533.3 1560.6,533.1 1561.3,536.3 1561.9,535.8 1562.5,537.9 1563.2,537.6 1563.8,538.2 1564.4,541.1 1565,540 1565.6,542.6 1566.2,541.6 1566.8,543.7 1567.4,544.3 1568,542.4 1568.5,543.5 1569.1,543.6 1569.6,544.7 1570.2,543.9 1570.7,546.2 1571.3,545.1 1571.8,544.8 1572,540 1572.4,545.6 1572.9,548.5 1573.5,544.5 1574,547.7 1574.6,546.5 1575.1,548 1575.7,548 1576.2,549.2 1576.8,548.9 1577.3,549.2 1577.9,551 1578.4,550.6 1579,551.1 1579.5,552.3 1580.1,553.7 1580.6,552.3 1581.2,553.4 1581.7,555 1582.3,554.2 1582.8,554.5 1583.4,556.1 1583.9,557.1 1584.5,556.3 1585,561 1585.6,557.2 1586.1,558.7 1586.7,561.7 1587.2,559.4 1587.8,560.3 1588.3,561.4 1588.9,560.3 1589.4,561 1590,560.1 1590.5,562.3 1591.1,560.2 1591.6,562.2 1592.2,561.4 1592.7,562 1593.3,561.1 1593.8,564 1594.4,562.8 1594.9,565.3 1595.5,562.5 1596,565.9 1596.6,565 1597.1,565.5 1597.7,565.4 1598.2,565.5 1598.8,563.9 1599.3,566.5 1599.9,564.7 1600.4,565.5 1601,564.2 1601.5,566.2 1602.1,563.5 1602.6,565.7 1603.2,566 1603.7,563.6 1604.3,565.8 1604.8,564.6 1605.4,562.8 1605.9,565.3 1606.5,566.2 1607,565.2 1607.6,567.4 1608.1,565.7 1608.7,566.3 1609.2,567.1 1609.8,565.2 1610.3,567.4 1610.9,566.6 1611.4,569 1612,566.7 1612.5,568.1 1613.1,567 1613.6,568.2 1614.2,567.7 1614.7,568.4 1615.3,567.5 1615.8,568.8 1616.4,567.9 1616.9,568.9 1617.5,567.5 1618,568.6 1618.6,569.3 1619.1,571.1 1619.7,568.4 1620.2,571.9 1620.8,570.6 1621.3,573.9 1621.9,570.4 1622.4,568.7 1623,570.6 1623.5,571.3 1624.1,569.1 1624.6,572 1625.2,570.2 1625.7,573.3 1626.3,569.9 1626.8,571.5 1627.4,568.5 1627.9,571.8 1628.5,570.6 1629,571.2 1629.6,571.5 1630.1,571 1630.7,571.2 1631.2,569.8 1631.8,571.8 1632.3,571.1 1632.9,571 1633.4,571.9 1633.8,566.6 1634,569.7 1634.5,574.4 1635.1,570.2 1635.6,572.1 1636.2,571.7 1636.7,572.4 1637.3,571.8 1637.8,573.5 1638.4,571.5 1638.9,569.8 1639.5,571 1640,572.8 1640.6,571.8 1641.1,574.1 1641.7,571.2 1642.2,574 1642.8,571.6 1643.3,573.8 1643.9,569.5 1644.4,573.3 1645,572.1 1645.5,572.8 1646.1,573 1646.6,571.6 1647.2,573.1 1647.7,572.2 1648.3,570.3 1648.8,574.8 1649.4,569.7 1649.9,574.2 1650.5,573.7 1651,575.5 1651.6,575.3 1652.1,576.6 1652.7,575.8 1653.2,576.2 1653.8,575.5 1654.3,576.4 1654.9,575.7 1655.4,576.1 1656,575.7 1656.5,576.3 1657.1,575.9 1657.6,576.2 1658.2,576 1658.7,576.3 1659.3,576.1 1659.8,576.2 1660.4,576.5 1660.9,576.3 1661.5,576.7 1662,576.6 1662.6,576.8 1663.1,576.7 1663.7,576.6 1664.2,576.8 1664.8,576.5 1665.3,576.7 1665.9,576.7 1666.4,576.3 1667,576.7 1667.5,576.7 1668.1,576.7 1668.6,576.7 1669.2,576.9 1669.7,576.8 1670.3,576.9 1670.8,577.3 1671.4,577 1671.9,577.1 1672.5,577.1 1673,577.4 1673.6,577.2 1674.1,577.3 1674.7,577.3 1675.2,577.4 1675.8,577.5 1676.3,577.4 1676.9,577.6 1677.4,577.5 1678,577.5 1678.5,577.6 1679.1,577.6 1679.6,577.7 1680.2,577.7 1680.7,577.7 1681.3,577.8 1681.8,577.6 1682.4,577.7 1682.9,577.7 1683.5,577.7 1684,577.7 1684.6,577.8 1685.1,577.7 1685.7,577.7 1686.2,577.8 1686.8,577.6 1687.3,577.7 1687.9,577.7 1688.4,577.8 1689,577.7 1689.5,577.7 1690.1,577.7 1690.6,577.7 1691.2,577.8 1691.7,577.7 1692.3,577.7 1692.8,577.7 1693.4,577.8 1693.9,577.7 1694.5,577.6 1695,577.7 1695.6,577.7 1696.1,577.7 1696.7,577.6 1697.2,577.8 1697.8,577.7 1698.3,577.8 1698.9,577.6 1699.4,577.8 1700,577.7 1700.5,577.7 1701.1,577.7 1701.6,577.6 1702.2,577.7 1702.7,577.7 1703.3,577.7 1703.8,577.7 1704.4,577.7 1704.9,577.7 1705.5,577.7 1706,577.6 1706.6,577.8 1707.1,577.7 1707.7,577.7 1708.2,577.7 1708.8,577.7 1709.3,577.7 1709.9,577.7 1710.4,577.7 1711,577.7 1711.5,577.7 1712.1,577.7 1712.6,577.7 1713.2,577.7 1713.7,577.8 1714.3,577.6 1714.8,577.7 1715.4,577.7 1715.9,577.7 1716.5,577.7 1717,577.7 1717.6,577.6 1718.1,577.7 1718.7,577.7 1719.2,577.7 1719.8,577.7 1720.3,577.7 1720.9,577.7 1721.4,577.7 1722,577.7 1722.5,577.7 1723.1,577.7 1723.6,577.7 1724.2,577.7 1724.7,577.7 1725.3,577.7 1725.8,577.7 1726.4,577.7 1726.9,577.7 1727.5,577.7 1728,577.7 1728.6,577.7 1729.1,577.7 1729.7,577.7 1730.2,577.7 1730.8,577.7 1731.3,577.7 1731.9,577.7 1732.4,577.7 1733,577.7 1733.5,577.7 1734.1,577.7 1734.6,577.7 1735.2,577.7 1735.7,577.7 1736.3,577.7 1736.8,577.7 1737.4,577.7 1737.9,577.7 1738.5,577.7 1739,577.7 1739.6,577.7 1740.1,577.7 1740.7,577.7 1741.2,577.7 1741.8,577.7 1742.3,577.7 1742.9,577.7 1743.4,577.7 1744,577.7 1744.5,577.7 1745.1,577.7 1745.6,577.7 1746.2,577.7 1746.7,577.7 1747.3,577.7 1747.8,577.7 1748.4,577.7 1748.9,577.7 1749.5,577.7 1750,577.7 1750.6,577.7 1751.1,577.7 1751.7,577.7 1752.2,577.7 1752.8,577.7 1753.3,577.7 1753.9,577.7 1754.4,577.7 1755,577.7 1755.5,577.7 1756.1,577.7 1756.6,577.7 1757.2,577.7 1757.7,577.7 1758.3,577.7 1758.8,577.7 1759.4,577.7 1759.9,577.7 1760.5,577.7 1761,577.7 1761.6,577.7 1762.1,577.7 1762.7,577.7 1763.2,577.7 1763.8,577.7 1764.3,577.7 1764.9,577.7 1765.4,577.7 1766,577.7 1766.3,577.7" fill="none" stroke="#ECBE4E" stroke-width="2.7" stroke-linejoin="round" stroke-linecap="butt"/>
<path clip-path="url(#c12)" d="M1282.1,372.7 L1330.5,380 1339.3,386.8 1347.5,389.3 1366.7,400.8 1387.8,429.6 1402.6,434.7 1415.4,442 1431.8,447.8 1440,457.7 1445.9,461.2 1451.7,469.9 1456.6,471.8 1461,481.6 1469.5,478.3 1479.6,490.4 1482.6,492.2 1485.4,494.7 1486.4,491.5 1488.1,494.6 1490.6,496.9 1493.1,495.7 1494,494.4 1495.4,497.6 1497.6,499.5 1499.7,499.3 1501.8,501.3 1503.8,502.3 1505.7,501.7 1507.5,503.7 1509.3,502.2 1511,504.5 1512.7,507.2 1514.3,506.5 1515.8,508.3 1517.4,506.1 1518.8,507.1 1520.3,509.4 1521.7,509.2 1523,512.5 1524.4,511.6 1524.4,509.4 1525.6,513.8 1526.9,511.5 1528.1,514.4 1529.3,513.8 1530.5,512 1531.7,513.9 1532.8,513 1533.9,516.2 1535,518.3 1536,515.9 1537.1,516.4 1538.1,518.5 1539.1,518.7 1540.1,521.8 1541,519.6 1542,521.2 1542.9,521.2 1543.8,524.6 1544.7,523.5 1545.6,523.8 1546.5,524 1547.3,526.4 1548.2,526.1 1549,525.4 1549.8,528.2 1550.6,528.5 1551.4,527.5 1552.2,530.3 1552.9,529.2 1553.7,532.1 1554.4,531.2 1555.2,533.2 1555.9,533.1 1556.6,533.1 1557.3,536.1 1558,535.3 1558.7,536.8 1559.4,537.4 1560,540.2 1560.7,538.2 1561.4,541.9 1562,540.4 1562.6,544.1 1563.3,544.5 1563.9,544.6 1564.5,546.4 1565.1,545.9 1565.7,548.5 1566.3,549.4 1566.9,548.6 1567.5,549.6 1568,549.9 1568.6,550.9 1569.2,551 1569.7,553.4 1570.1,482.8 1570.3,553 1570.8,553.9 1571.4,555.6 1571.9,555.7 1572.5,556.3 1573,558.2 1573.6,557.1 1574.1,559.1 1574.7,558.3 1575.2,559.7 1575.8,558.3 1576.3,560 1576.9,560.7 1577.4,559.1 1578,562 1578.5,562.2 1579.1,561.4 1579.6,563.9 1580.2,562.4 1580.7,563.5 1581.3,563.5 1581.8,562.7 1582.4,564 1582.9,562.5 1583.5,565.9 1584,564.2 1584.6,566.9 1585.1,565.1 1585.7,565.6 1586.2,565.9 1586.8,565.8 1587.3,566 1587.9,566.7 1588.4,565.5 1589,567 1589.5,567.1 1590.1,568 1590.6,567.6 1591.2,568.1 1591.7,567.4 1592.3,567.6 1592.8,568.5 1593.4,568.2 1593.9,569.7 1594.5,568.2 1595,568.7 1595.6,568.2 1596.1,569.2 1596.7,568.8 1597.2,569.7 1597.8,567.9 1598.3,570.1 1598.9,569.4 1599.4,570.5 1600,569.2 1600.5,570.7 1601.1,568.1 1601.6,571.9 1602.2,570 1602.7,570.1 1603.3,570.1 1603.8,571.5 1604.4,572 1604.9,567.9 1605.5,571.5 1606,571.9 1606.6,570.6 1607.1,571.4 1607.7,571.8 1608.2,570.2 1608.8,570.9 1609.3,570.1 1609.9,569.9 1610.4,571.3 1611,571.5 1611.5,571.4 1612.1,571.1 1612.6,569.7 1613.2,573.4 1613.7,571 1614.3,573 1614.8,570.6 1615.4,571.5 1615.9,572.5 1616.5,571.7 1617,573.4 1617.6,572.4 1618.1,575.4 1618.7,576.4 1619.2,574.8 1619.8,576.8 1620.3,575.1 1620.9,576 1621.4,575.5 1622,576.4 1622.5,575.6 1623.1,576.1 1623.6,575.3 1624.2,576.3 1624.7,575.3 1625.3,576.7 1625.8,575.4 1626.4,576 1626.9,575.8 1627.5,576.1 1628,575.1 1628.6,576.2 1629.1,575.4 1629.7,576.3 1630.2,575.5 1630.8,576.3 1631.3,575.8 1631.9,577.3 1632.4,575.8 1633,576.3 1633.5,576.6 1634.1,576.3 1634.6,576.1 1635.2,576.7 1635.7,577.1 1636.3,575.8 1636.8,577.1 1637.4,575.8 1637.9,576.4 1638.5,576.1 1639,576.5 1639.6,576.5 1640.1,576.2 1640.7,575.4 1641.2,576.9 1641.8,575.5 1642.3,577.1 1642.9,575.5 1643.4,576.5 1644,576.3 1644.5,577.3 1645.1,575.8 1645.6,576.6 1646.2,576.3 1646.7,577.3 1647.3,577.4 1647.8,577.6 1648.4,577.4 1648.9,577.7 1649.5,577.5 1650,577.5 1650.6,577.7 1651.1,577.3 1651.7,577.7 1652.2,577.4 1652.8,577.6 1653.3,577.6 1653.9,577.6 1654.4,577.6 1655,577.7 1655.5,577.6 1656.1,577.6 1656.6,577.3 1657.2,577.5 1657.7,577.3 1658.3,577.6 1658.8,577.2 1659.4,577.5 1659.9,577.4 1660.5,577.4 1661,577.5 1661.6,577.5 1662.1,577.5 1662.7,577.3 1663.2,577.6 1663.8,577.3 1664.3,577.5 1664.9,577.6 1665.4,577.6 1666,577.4 1666.5,577.4 1667.1,577.6 1667.6,577.5 1668.2,577.7 1668.7,577.5 1669.3,577.8 1669.8,577.5 1670.4,577.7 1670.9,577.2 1671.5,577.7 1672,577.4 1672.6,577.7 1673.1,577.5 1673.7,577.7 1674.2,577.5 1674.8,577.6 1675.3,577.4 1675.9,577.6 1676.4,577.5 1677,577.5 1677.5,577.6 1678.1,577.5 1678.6,577.8 1679.2,577.7 1679.7,577.5 1680.3,577.8 1680.8,577.4 1681.4,577.7 1681.9,577.4 1682.5,577.8 1683,577.3 1683.6,577.8 1684.1,577.4 1684.7,577.7 1685.2,577.5 1685.8,577.8 1686.3,577.4 1686.9,577.7 1687.4,577.9 1688,577.6 1688.5,577.9 1689.1,577.6 1689.6,577.8 1690.2,577.7 1690.7,577.9 1691.3,577.6 1691.8,577.8 1692.4,577.3 1692.9,577.8 1693.5,577.6 1694,577.4 1694.6,577.6 1695.1,577.4 1695.7,577.3 1696.2,577.5 1696.8,577.5 1697.3,577.6 1697.9,577.5 1698.4,577.9 1699,577.6 1699.5,577.7 1700.1,577.5 1700.6,577.6 1701.2,577.7 1701.7,577.3 1702.3,577.7 1702.8,577.5 1703.4,577.7 1703.9,577.5 1704.5,577.2 1705,577.4 1705.6,577.5 1706.1,577.5 1706.7,577.6 1707.2,577.4 1707.8,577.4 1708.3,577.5 1708.9,577.4 1709.4,577.7 1710,577.4 1710.5,577.6 1711.1,577.2 1711.6,577.6 1712.2,577.4 1712.7,577.7 1713.3,577.2 1713.8,577.6 1714.4,577.9 1714.9,577.5 1715.5,577.6 1716,577.5 1716.6,577.2 1717.1,577.8 1717.7,577.5 1718.2,577.7 1718.8,577.4 1719.3,577.6 1719.9,577.8 1720.4,577.5 1721,577.7 1721.5,577.6 1722.1,577.7 1722.6,577.6 1723.2,577.7 1723.7,577.5 1724.3,577.7 1724.8,577.5 1725.4,577.9 1725.9,577.9 1726.5,577.6 1727,577.8 1727.6,577.5 1728.1,577.9 1728.7,577.6 1729.2,577.8 1729.8,577.5 1730.3,577.6 1730.9,577.5 1731.4,577.9 1732,577.5 1732.5,577.6 1733.1,577.5 1733.6,577.7 1734.2,577.4 1734.7,577.6 1735.3,577.4 1735.8,577.7 1736.4,577.6 1736.9,577.8 1737.5,577.5 1738,577.7 1738.6,577.4 1739.1,577.9 1739.7,577.5 1740.2,577.7 1740.8,577.6 1741.3,578 1741.9,577.4 1742.4,577.5 1743,577.7 1743.5,577.5 1744.1,577.8 1744.6,577.7 1745.2,577.6 1745.7,577.8 1746.3,577.7 1746.8,577.7 1747.4,577.5 1747.9,577.8 1748.5,577.7 1749,578 1749.6,577.9 1750.1,577.6 1750.7,577.8 1751.2,577.5 1751.8,577.8 1752.3,577.8 1752.9,577.4 1753.4,577.7 1754,577.5 1754.5,577.8 1755.1,577.5 1755.6,577.8 1756.2,577.6 1756.7,577.8 1757.3,577.8 1757.8,577.7 1758.4,577.6 1758.9,577.8 1759.5,577.7 1760,577.8 1760.6,577.5 1761.1,577.8 1761.7,577.6 1762.2,577.8 1762.8,577.5 1763.3,577.8 1763.9,577.5 1764.4,577.9 1765,577.7 1765.5,577.6 1766.1,577.8 1766.3,577.7" fill="none" stroke="#327A79" stroke-width="2.7" stroke-linejoin="round" stroke-linecap="butt"/>
<rect x="70.8" y="0.3" width="483.5" height="268.2" fill="none" stroke="#2b2b2b" stroke-width="1.2"/>
<path d="M107.19,268.5v2.3 M128.47,268.5v2.3 M143.57,268.5v2.3 M155.29,268.5v2.3 M164.86,268.5v2.3 M172.95,268.5v2.3 M179.96,268.5v2.3 M186.14,268.5v2.3 M228.06,268.5v2.3 M249.35,268.5v2.3 M264.45,268.5v2.3 M276.16,268.5v2.3 M285.73,268.5v2.3 M293.83,268.5v2.3 M300.84,268.5v2.3 M307.02,268.5v2.3 M348.94,268.5v2.3 M370.22,268.5v2.3 M385.32,268.5v2.3 M397.04,268.5v2.3 M406.61,268.5v2.3 M414.70,268.5v2.3 M421.71,268.5v2.3 M427.89,268.5v2.3 M469.81,268.5v2.3 M491.10,268.5v2.3 M506.20,268.5v2.3 M517.91,268.5v2.3 M527.48,268.5v2.3 M535.58,268.5v2.3 M542.59,268.5v2.3 M548.77,268.5v2.3" stroke="#2b2b2b" stroke-width="0.95" fill="none"/>
<path d="M70.80,268.5v3.9 M191.67,268.5v3.9 M312.55,268.5v3.9 M433.42,268.5v3.9 M554.30,268.5v3.9 M70.8,44.0h-3.9 M70.8,106.8h-3.9 M70.8,169.6h-3.9 M70.8,232.4h-3.9" stroke="#2b2b2b" stroke-width="1.2" fill="none"/>
<text x="63.2" y="52.3" text-anchor="end" class="tl">0.8</text>
<text x="63.2" y="115.1" text-anchor="end" class="tl">0.6</text>
<text x="63.2" y="177.9" text-anchor="end" class="tl">0.4</text>
<text x="63.2" y="240.7" text-anchor="end" class="tl">0.2</text>
<text transform="translate(18.6,134.5) rotate(-90)" text-anchor="middle" class="yl">Test Error</text>
<rect x="70.8" y="322.5" width="484.0" height="267.2" fill="none" stroke="#2b2b2b" stroke-width="1.2"/>
<path d="M107.22,589.7v2.3 M128.53,589.7v2.3 M143.65,589.7v2.3 M155.38,589.7v2.3 M164.96,589.7v2.3 M173.06,589.7v2.3 M180.07,589.7v2.3 M186.26,589.7v2.3 M228.22,589.7v2.3 M249.53,589.7v2.3 M264.65,589.7v2.3 M276.38,589.7v2.3 M285.96,589.7v2.3 M294.06,589.7v2.3 M301.07,589.7v2.3 M307.26,589.7v2.3 M349.22,589.7v2.3 M370.53,589.7v2.3 M385.65,589.7v2.3 M397.38,589.7v2.3 M406.96,589.7v2.3 M415.06,589.7v2.3 M422.07,589.7v2.3 M428.26,589.7v2.3 M470.22,589.7v2.3 M491.53,589.7v2.3 M506.65,589.7v2.3 M518.38,589.7v2.3 M527.96,589.7v2.3 M536.06,589.7v2.3 M543.07,589.7v2.3 M549.26,589.7v2.3" stroke="#2b2b2b" stroke-width="0.95" fill="none"/>
<path d="M70.80,589.7v3.9 M191.80,589.7v3.9 M312.80,589.7v3.9 M433.80,589.7v3.9 M554.80,589.7v3.9 M70.8,361.2h-3.9 M70.8,415.35h-3.9 M70.8,469.5h-3.9 M70.8,523.65h-3.9 M70.8,577.8h-3.9" stroke="#2b2b2b" stroke-width="1.2" fill="none"/>
<text x="63.2" y="369.5" text-anchor="end" class="tl">0.8</text>
<text x="63.2" y="423.7" text-anchor="end" class="tl">0.6</text>
<text x="63.2" y="477.8" text-anchor="end" class="tl">0.4</text>
<text x="63.2" y="531.9" text-anchor="end" class="tl">0.2</text>
<text x="63.2" y="586.1" text-anchor="end" class="tl">0.0</text>
<text x="52.6" y="613.8" class="tl">10<tspan class="sup" dy="-8.2">2</tspan></text>
<text x="173.6" y="613.8" class="tl">10<tspan class="sup" dy="-8.2">3</tspan></text>
<text x="294.6" y="613.8" class="tl">10<tspan class="sup" dy="-8.2">4</tspan></text>
<text x="415.6" y="613.8" class="tl">10<tspan class="sup" dy="-8.2">5</tspan></text>
<text x="536.6" y="613.8" class="tl">10<tspan class="sup" dy="-8.2">6</tspan></text>
<text x="313.6" y="648.2" text-anchor="middle" class="al">Iterations</text>
<text transform="translate(18.6,456.1) rotate(-90)" text-anchor="middle" class="yl">Train Error</text>
<path d="M381.2,24.4H420.9" stroke="#ECBE4E" stroke-width="2.7"/>
<path d="M381.2,51.6H420.9" stroke="#327A79" stroke-width="2.7"/>
<text x="433.8" y="30.9" class="lg">lr = 0.0001</text>
<text x="433.8" y="58.2" class="lg">lr = 0.001</text>
<rect x="676.3" y="0.3" width="483.7" height="268.2" fill="none" stroke="#2b2b2b" stroke-width="1.2"/>
<path d="M712.70,268.5v2.3 M734.00,268.5v2.3 M749.10,268.5v2.3 M760.82,268.5v2.3 M770.40,268.5v2.3 M778.49,268.5v2.3 M785.51,268.5v2.3 M791.69,268.5v2.3 M833.63,268.5v2.3 M854.92,268.5v2.3 M870.03,268.5v2.3 M881.75,268.5v2.3 M891.32,268.5v2.3 M899.42,268.5v2.3 M906.43,268.5v2.3 M912.62,268.5v2.3 M954.55,268.5v2.3 M975.85,268.5v2.3 M990.95,268.5v2.3 M1002.67,268.5v2.3 M1012.25,268.5v2.3 M1020.34,268.5v2.3 M1027.36,268.5v2.3 M1033.54,268.5v2.3 M1075.48,268.5v2.3 M1096.77,268.5v2.3 M1111.88,268.5v2.3 M1123.60,268.5v2.3 M1133.17,268.5v2.3 M1141.27,268.5v2.3 M1148.28,268.5v2.3 M1154.47,268.5v2.3" stroke="#2b2b2b" stroke-width="0.95" fill="none"/>
<path d="M676.30,268.5v3.9 M797.22,268.5v3.9 M918.15,268.5v3.9 M1039.08,268.5v3.9 M1160.00,268.5v3.9 M676.3,44.4h-3.9 M676.3,108.4h-3.9 M676.3,172.3h-3.9 M676.3,236.2h-3.9" stroke="#2b2b2b" stroke-width="1.2" fill="none"/>
<text x="668.7" y="52.7" text-anchor="end" class="tl">0.8</text>
<text x="668.7" y="116.7" text-anchor="end" class="tl">0.6</text>
<text x="668.7" y="180.6" text-anchor="end" class="tl">0.4</text>
<text x="668.7" y="244.5" text-anchor="end" class="tl">0.2</text>
<text transform="translate(624.1,134.5) rotate(-90)" text-anchor="middle" class="yl">Test Error</text>
<rect x="676.8" y="322.5" width="483.5" height="267.2" fill="none" stroke="#2b2b2b" stroke-width="1.2"/>
<path d="M713.19,589.7v2.3 M734.47,589.7v2.3 M749.57,589.7v2.3 M761.29,589.7v2.3 M770.86,589.7v2.3 M778.95,589.7v2.3 M785.96,589.7v2.3 M792.14,589.7v2.3 M834.06,589.7v2.3 M855.35,589.7v2.3 M870.45,589.7v2.3 M882.16,589.7v2.3 M891.73,589.7v2.3 M899.83,589.7v2.3 M906.84,589.7v2.3 M913.02,589.7v2.3 M954.94,589.7v2.3 M976.22,589.7v2.3 M991.32,589.7v2.3 M1003.04,589.7v2.3 M1012.61,589.7v2.3 M1020.70,589.7v2.3 M1027.71,589.7v2.3 M1033.89,589.7v2.3 M1075.81,589.7v2.3 M1097.10,589.7v2.3 M1112.20,589.7v2.3 M1123.91,589.7v2.3 M1133.48,589.7v2.3 M1141.58,589.7v2.3 M1148.59,589.7v2.3 M1154.77,589.7v2.3" stroke="#2b2b2b" stroke-width="0.95" fill="none"/>
<path d="M676.80,589.7v3.9 M797.67,589.7v3.9 M918.55,589.7v3.9 M1039.42,589.7v3.9 M1160.30,589.7v3.9 M676.8,361.2h-3.9 M676.8,415.35h-3.9 M676.8,469.5h-3.9 M676.8,523.65h-3.9 M676.8,577.8h-3.9" stroke="#2b2b2b" stroke-width="1.2" fill="none"/>
<text x="669.2" y="369.5" text-anchor="end" class="tl">0.8</text>
<text x="669.2" y="423.7" text-anchor="end" class="tl">0.6</text>
<text x="669.2" y="477.8" text-anchor="end" class="tl">0.4</text>
<text x="669.2" y="531.9" text-anchor="end" class="tl">0.2</text>
<text x="669.2" y="586.1" text-anchor="end" class="tl">0.0</text>
<text x="658.6" y="613.8" class="tl">10<tspan class="sup" dy="-8.2">2</tspan></text>
<text x="779.5" y="613.8" class="tl">10<tspan class="sup" dy="-8.2">3</tspan></text>
<text x="900.4" y="613.8" class="tl">10<tspan class="sup" dy="-8.2">4</tspan></text>
<text x="1021.3" y="613.8" class="tl">10<tspan class="sup" dy="-8.2">5</tspan></text>
<text x="1142.1" y="613.8" class="tl">10<tspan class="sup" dy="-8.2">6</tspan></text>
<text x="919.3" y="648.2" text-anchor="middle" class="al">Iterations</text>
<text transform="translate(624.6,456.1) rotate(-90)" text-anchor="middle" class="yl">Train Error</text>
<path d="M985.3,24.4H1025.0" stroke="#ECBE4E" stroke-width="2.7"/>
<path d="M985.3,51.6H1025.0" stroke="#327A79" stroke-width="2.7"/>
<text x="1038.3" y="30.9" class="lg">lr = 0.0001</text>
<text x="1038.3" y="58.2" class="lg">lr = 0.001</text>
<rect x="1282.1" y="0.3" width="484.3" height="268.2" fill="none" stroke="#2b2b2b" stroke-width="1.2"/>
<path d="M1318.55,268.5v2.3 M1339.87,268.5v2.3 M1354.99,268.5v2.3 M1366.73,268.5v2.3 M1376.31,268.5v2.3 M1384.42,268.5v2.3 M1391.44,268.5v2.3 M1397.63,268.5v2.3 M1439.62,268.5v2.3 M1460.94,268.5v2.3 M1476.07,268.5v2.3 M1487.80,268.5v2.3 M1497.39,268.5v2.3 M1505.50,268.5v2.3 M1512.52,268.5v2.3 M1518.71,268.5v2.3 M1560.70,268.5v2.3 M1582.02,268.5v2.3 M1597.14,268.5v2.3 M1608.88,268.5v2.3 M1618.46,268.5v2.3 M1626.57,268.5v2.3 M1633.59,268.5v2.3 M1639.78,268.5v2.3 M1681.77,268.5v2.3 M1703.09,268.5v2.3 M1718.22,268.5v2.3 M1729.95,268.5v2.3 M1739.54,268.5v2.3 M1747.65,268.5v2.3 M1754.67,268.5v2.3 M1760.86,268.5v2.3" stroke="#2b2b2b" stroke-width="0.95" fill="none"/>
<path d="M1282.10,268.5v3.9 M1403.17,268.5v3.9 M1524.25,268.5v3.9 M1645.33,268.5v3.9 M1766.40,268.5v3.9 M1282.1,44.4h-3.9 M1282.1,107.8h-3.9 M1282.1,171.1h-3.9 M1282.1,234.5h-3.9" stroke="#2b2b2b" stroke-width="1.2" fill="none"/>
<text x="1274.5" y="52.7" text-anchor="end" class="tl">0.8</text>
<text x="1274.5" y="116.1" text-anchor="end" class="tl">0.6</text>
<text x="1274.5" y="179.4" text-anchor="end" class="tl">0.4</text>
<text x="1274.5" y="242.8" text-anchor="end" class="tl">0.2</text>
<text transform="translate(1229.9,134.5) rotate(-90)" text-anchor="middle" class="yl">Test Error</text>
<rect x="1282.5" y="322.5" width="484.0" height="267.2" fill="none" stroke="#2b2b2b" stroke-width="1.2"/>
<path d="M1318.92,589.7v2.3 M1340.23,589.7v2.3 M1355.35,589.7v2.3 M1367.08,589.7v2.3 M1376.66,589.7v2.3 M1384.76,589.7v2.3 M1391.77,589.7v2.3 M1397.96,589.7v2.3 M1439.92,589.7v2.3 M1461.23,589.7v2.3 M1476.35,589.7v2.3 M1488.08,589.7v2.3 M1497.66,589.7v2.3 M1505.76,589.7v2.3 M1512.77,589.7v2.3 M1518.96,589.7v2.3 M1560.92,589.7v2.3 M1582.23,589.7v2.3 M1597.35,589.7v2.3 M1609.08,589.7v2.3 M1618.66,589.7v2.3 M1626.76,589.7v2.3 M1633.77,589.7v2.3 M1639.96,589.7v2.3 M1681.92,589.7v2.3 M1703.23,589.7v2.3 M1718.35,589.7v2.3 M1730.08,589.7v2.3 M1739.66,589.7v2.3 M1747.76,589.7v2.3 M1754.77,589.7v2.3 M1760.96,589.7v2.3" stroke="#2b2b2b" stroke-width="0.95" fill="none"/>
<path d="M1282.50,589.7v3.9 M1403.50,589.7v3.9 M1524.50,589.7v3.9 M1645.50,589.7v3.9 M1766.50,589.7v3.9 M1282.5,361.2h-3.9 M1282.5,415.35h-3.9 M1282.5,469.5h-3.9 M1282.5,523.65h-3.9 M1282.5,577.8h-3.9" stroke="#2b2b2b" stroke-width="1.2" fill="none"/>
<text x="1274.9" y="369.5" text-anchor="end" class="tl">0.8</text>
<text x="1274.9" y="423.7" text-anchor="end" class="tl">0.6</text>
<text x="1274.9" y="477.8" text-anchor="end" class="tl">0.4</text>
<text x="1274.9" y="531.9" text-anchor="end" class="tl">0.2</text>
<text x="1274.9" y="586.1" text-anchor="end" class="tl">0.0</text>
<text x="1264.3" y="613.8" class="tl">10<tspan class="sup" dy="-8.2">2</tspan></text>
<text x="1385.3" y="613.8" class="tl">10<tspan class="sup" dy="-8.2">3</tspan></text>
<text x="1506.3" y="613.8" class="tl">10<tspan class="sup" dy="-8.2">4</tspan></text>
<text x="1627.3" y="613.8" class="tl">10<tspan class="sup" dy="-8.2">5</tspan></text>
<text x="1748.3" y="613.8" class="tl">10<tspan class="sup" dy="-8.2">6</tspan></text>
<text x="1525.3" y="648.2" text-anchor="middle" class="al">Iterations</text>
<text transform="translate(1230.3,456.1) rotate(-90)" text-anchor="middle" class="yl">Train Error</text>
<path d="M1591.9,24.4H1631.5" stroke="#ECBE4E" stroke-width="2.7"/>
<path d="M1591.9,51.6H1631.5" stroke="#327A79" stroke-width="2.7"/>
<text x="1644.6" y="30.9" class="lg">lr = 0.0001</text>
<text x="1644.6" y="58.2" class="lg">lr = 0.001</text>
<text x="72" y="722" class="cap">(a) Constant learning rate</text>
<text x="594.5" y="722" class="cap">(b)</text>
<text x="675.5" y="722" class="cap">Inverse-square</text>
<text x="951" y="722" class="cap">root</text>
<text x="1050.5" y="722" class="cap">learning</text>
<text x="594.5" y="768.5" class="cap">rate</text>
<text x="1281" y="722" class="cap">(c) Dynamic learning rate</text>
</svg>
</body></html>
